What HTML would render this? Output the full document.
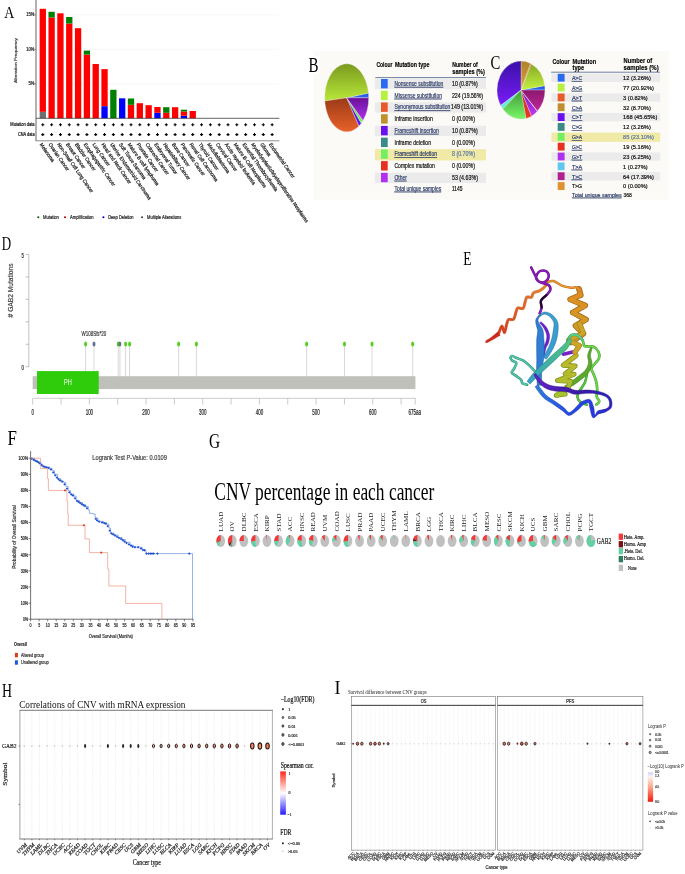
<!DOCTYPE html>
<html lang="en"><head><meta charset="utf-8"><title>GAB2 pan-cancer alterations</title>
<style>
html,body{margin:0;padding:0;background:#fff}
svg{display:block;filter:blur(0.4px)}
text{font-family:"Liberation Sans",Arial,sans-serif}
text.sf{font-family:"Liberation Serif","Times New Roman",serif}
</style></head><body>
<svg width="685" height="874" viewBox="0 0 685 874">
<rect width="685" height="874" fill="#fff"/>
<g id="pA">
<text x="4.3" y="17.6" font-size="16" class="sf" textLength="10" lengthAdjust="spacingAndGlyphs">A</text>
<line x1="36" y1="83.8" x2="279.4" y2="83.8" stroke="#d8d8d8" stroke-width="0.4" stroke-dasharray="0.8 0.8"/>
<text x="34.4" y="85.4" font-size="4.7" fill="#222" stroke="#222" stroke-width="0.2" text-anchor="end" textLength="6" lengthAdjust="spacingAndGlyphs">5%</text>
<line x1="35" y1="83.8" x2="36" y2="83.8" stroke="#333" stroke-width="0.4"/>
<line x1="36" y1="49.3" x2="279.4" y2="49.3" stroke="#d8d8d8" stroke-width="0.4" stroke-dasharray="0.8 0.8"/>
<text x="34.4" y="50.9" font-size="4.7" fill="#222" stroke="#222" stroke-width="0.2" text-anchor="end" textLength="8.2" lengthAdjust="spacingAndGlyphs">10%</text>
<line x1="35" y1="49.3" x2="36" y2="49.3" stroke="#333" stroke-width="0.4"/>
<line x1="36" y1="14.8" x2="279.4" y2="14.8" stroke="#d8d8d8" stroke-width="0.4" stroke-dasharray="0.8 0.8"/>
<text x="34.4" y="16.4" font-size="4.7" fill="#222" stroke="#222" stroke-width="0.2" text-anchor="end" textLength="8.2" lengthAdjust="spacingAndGlyphs">15%</text>
<line x1="35" y1="14.8" x2="36" y2="14.8" stroke="#333" stroke-width="0.4"/>
<text font-size="4.4" fill="#444" stroke="#444" stroke-width="0.2" text-anchor="middle" textLength="45" lengthAdjust="spacingAndGlyphs" transform="translate(17.2,60.5) rotate(-90)">Alteration Frequency</text>
<rect x="39.65" y="111.8" width="6.3" height="6.5" fill="#707070"/>
<rect x="39.65" y="8.8" width="6.3" height="103" fill="#ff0000"/>
<rect x="48.47" y="17.5" width="6.3" height="100.8" fill="#ff0000"/>
<rect x="48.47" y="11.8" width="6.3" height="5.7" fill="#008000"/>
<rect x="57.29" y="13.3" width="6.3" height="105" fill="#ff0000"/>
<rect x="66.11" y="23.5" width="6.3" height="94.8" fill="#ff0000"/>
<rect x="66.11" y="17" width="6.3" height="6.5" fill="#008000"/>
<rect x="74.93" y="28.2" width="6.3" height="90.1" fill="#ff0000"/>
<rect x="83.75" y="54.6" width="6.3" height="63.7" fill="#ff0000"/>
<rect x="83.75" y="50.6" width="6.3" height="4" fill="#008000"/>
<rect x="92.57" y="64" width="6.3" height="54.3" fill="#ff0000"/>
<rect x="101.39" y="106.2" width="6.3" height="12.1" fill="#0000ff"/>
<rect x="101.39" y="69.1" width="6.3" height="37.1" fill="#ff0000"/>
<rect x="110.21" y="89.8" width="6.3" height="28.5" fill="#008000"/>
<rect x="119.03" y="98.3" width="6.3" height="20" fill="#0000ff"/>
<rect x="127.85" y="104.8" width="6.3" height="13.5" fill="#ff0000"/>
<rect x="127.85" y="98.5" width="6.3" height="6.3" fill="#008000"/>
<rect x="136.67" y="103.2" width="6.3" height="15.1" fill="#ff0000"/>
<rect x="145.49" y="105.2" width="6.3" height="13.1" fill="#ff0000"/>
<rect x="154.31" y="112.8" width="6.3" height="5.5" fill="#0000ff"/>
<rect x="154.31" y="107" width="6.3" height="5.8" fill="#ff0000"/>
<rect x="163.13" y="112.8" width="6.3" height="5.5" fill="#ff0000"/>
<rect x="163.13" y="107.2" width="6.3" height="5.6" fill="#008000"/>
<rect x="171.95" y="107.2" width="6.3" height="11.1" fill="#ff0000"/>
<rect x="180.77" y="115.8" width="6.3" height="2.5" fill="#0000ff"/>
<rect x="180.77" y="111.5" width="6.3" height="4.3" fill="#ff0000"/>
<rect x="180.77" y="109.7" width="6.3" height="1.8" fill="#008000"/>
<rect x="189.59" y="111" width="6.3" height="7.3" fill="#ff0000"/>
<line x1="36" y1="0" x2="36" y2="141" stroke="#222" stroke-width="0.7"/>
<line x1="36" y1="118.3" x2="279.4" y2="118.3" stroke="#222" stroke-width="0.7"/>
<line x1="36" y1="140.8" x2="279.4" y2="140.8" stroke="#444" stroke-width="0.6"/>
<text x="34.6" y="126.3" font-size="4.8" fill="#111" stroke="#111" stroke-width="0.2" text-anchor="end" textLength="24.3" lengthAdjust="spacingAndGlyphs">Mutation data</text>
<text x="34.6" y="136.2" font-size="4.8" fill="#111" stroke="#111" stroke-width="0.2" text-anchor="end" textLength="16.6" lengthAdjust="spacingAndGlyphs">CNA data</text>
<path d="M41.3 124.8h3M42.8 123.3v3M41.3 134.6h3M42.8 133.1v3M50.12 124.8h3M51.62 123.3v3M50.12 134.6h3M51.62 133.1v3M58.94 124.8h3M60.44 123.3v3M58.94 134.6h3M60.44 133.1v3M67.76 124.8h3M69.26 123.3v3M67.76 134.6h3M69.26 133.1v3M76.58 124.8h3M78.08 123.3v3M76.58 134.6h3M78.08 133.1v3M85.4 124.8h3M86.9 123.3v3M85.4 134.6h3M86.9 133.1v3M94.22 124.8h3M95.72 123.3v3M94.22 134.6h3M95.72 133.1v3M103.04 124.8h3M104.54 123.3v3M103.04 134.6h3M104.54 133.1v3M111.86 124.8h3M113.36 123.3v3M111.86 134.6h3M113.36 133.1v3M120.68 124.8h3M122.18 123.3v3M120.68 134.6h3M122.18 133.1v3M129.5 124.8h3M131 123.3v3M129.5 134.6h3M131 133.1v3M138.32 124.8h3M139.82 123.3v3M138.32 134.6h3M139.82 133.1v3M147.14 124.8h3M148.64 123.3v3M147.14 134.6h3M148.64 133.1v3M155.96 124.8h3M157.46 123.3v3M155.96 134.6h3M157.46 133.1v3M164.78 124.8h3M166.28 123.3v3M164.78 134.6h3M166.28 133.1v3M173.6 124.8h3M175.1 123.3v3M173.6 134.6h3M175.1 133.1v3M182.42 124.8h3M183.92 123.3v3M182.42 134.6h3M183.92 133.1v3M191.24 124.8h3M192.74 123.3v3M191.24 134.6h3M192.74 133.1v3M200.06 124.8h3M201.56 123.3v3M200.06 134.6h3M201.56 133.1v3M208.88 124.8h3M210.38 123.3v3M208.88 134.6h3M210.38 133.1v3M217.7 124.8h3M219.2 123.3v3M217.7 134.6h3M219.2 133.1v3M226.52 124.8h3M228.02 123.3v3M226.52 134.6h3M228.02 133.1v3M235.34 124.8h3M236.84 123.3v3M235.34 134.6h3M236.84 133.1v3M244.16 124.8h3M245.66 123.3v3M244.16 134.6h3M245.66 133.1v3M252.98 124.8h3M254.48 123.3v3M252.98 134.6h3M254.48 133.1v3M261.8 124.8h3M263.3 123.3v3M261.8 134.6h3M263.3 133.1v3M270.62 124.8h3M272.12 123.3v3M270.62 134.6h3M272.12 133.1v3" stroke="#000" stroke-width="1.05" fill="none"/>
<text font-size="5.2" fill="#111" stroke="#111" stroke-width="0.2" transform="translate(39.4,144.6) rotate(55) scale(0.9,1)">Melanoma</text>
<text font-size="5.2" fill="#111" stroke="#111" stroke-width="0.2" transform="translate(48.22,144.6) rotate(55) scale(0.9,1)">Ovarian Cancer</text>
<text font-size="5.2" fill="#111" stroke="#111" stroke-width="0.2" transform="translate(57.04,144.6) rotate(55) scale(0.9,1)">Non-Small Cell Lung Cancer</text>
<text font-size="5.2" fill="#111" stroke="#111" stroke-width="0.2" transform="translate(65.86,144.6) rotate(55) scale(0.9,1)">Breast Cancer</text>
<text font-size="5.2" fill="#111" stroke="#111" stroke-width="0.2" transform="translate(74.68,144.6) rotate(55) scale(0.9,1)">Bladder Cancer</text>
<text font-size="5.2" fill="#111" stroke="#111" stroke-width="0.2" transform="translate(83.5,144.6) rotate(55) scale(0.9,1)">Esophagogastric Cancer</text>
<text font-size="5.2" fill="#111" stroke="#111" stroke-width="0.2" transform="translate(92.32,144.6) rotate(55) scale(0.9,1)">Lung Cancer</text>
<text font-size="5.2" fill="#111" stroke="#111" stroke-width="0.2" transform="translate(101.14,144.6) rotate(55) scale(0.9,1)">Head and Neck Cancer</text>
<text font-size="5.2" fill="#111" stroke="#111" stroke-width="0.2" transform="translate(109.96,144.6) rotate(55) scale(0.9,1)">Uterine Endometrioid Carcinoma</text>
<text font-size="5.2" fill="#111" stroke="#111" stroke-width="0.2" transform="translate(118.78,144.6) rotate(55) scale(0.9,1)">Soft Tissue Sarcoma</text>
<text font-size="5.2" fill="#111" stroke="#111" stroke-width="0.2" transform="translate(127.6,144.6) rotate(55) scale(0.9,1)">Mature B-cell lymphoma</text>
<text font-size="5.2" fill="#111" stroke="#111" stroke-width="0.2" transform="translate(136.42,144.6) rotate(55) scale(0.9,1)">Prostate Cancer</text>
<text font-size="5.2" fill="#111" stroke="#111" stroke-width="0.2" transform="translate(145.24,144.6) rotate(55) scale(0.9,1)">Colorectal Cancer</text>
<text font-size="5.2" fill="#111" stroke="#111" stroke-width="0.2" transform="translate(154.06,144.6) rotate(55) scale(0.9,1)">Embryonal Tumor</text>
<text font-size="5.2" fill="#111" stroke="#111" stroke-width="0.2" transform="translate(162.88,144.6) rotate(55) scale(0.9,1)">Hepatobiliary Cancer</text>
<text font-size="5.2" fill="#111" stroke="#111" stroke-width="0.2" transform="translate(171.7,144.6) rotate(55) scale(0.9,1)">Bone Cancer</text>
<text font-size="5.2" fill="#111" stroke="#111" stroke-width="0.2" transform="translate(180.52,144.6) rotate(55) scale(0.9,1)">Pancreatic Cancer</text>
<text font-size="5.2" fill="#111" stroke="#111" stroke-width="0.2" transform="translate(189.34,144.6) rotate(55) scale(0.9,1)">Renal Cell Carcinoma</text>
<text font-size="5.2" fill="#111" stroke="#111" stroke-width="0.2" transform="translate(198.16,144.6) rotate(55) scale(0.9,1)">Thyroid Cancer</text>
<text font-size="5.2" fill="#111" stroke="#111" stroke-width="0.2" transform="translate(206.98,144.6) rotate(55) scale(0.9,1)">Medulloblastoma</text>
<text font-size="5.2" fill="#111" stroke="#111" stroke-width="0.2" transform="translate(215.8,144.6) rotate(55) scale(0.9,1)">Cervical Cancer</text>
<text font-size="5.2" fill="#111" stroke="#111" stroke-width="0.2" transform="translate(224.62,144.6) rotate(55) scale(0.9,1)">Acute myeloid leukemia</text>
<text font-size="5.2" fill="#111" stroke="#111" stroke-width="0.2" transform="translate(233.44,144.6) rotate(55) scale(0.9,1)">Mature B-Cell Neoplasms</text>
<text font-size="5.2" fill="#111" stroke="#111" stroke-width="0.2" transform="translate(242.26,144.6) rotate(55) scale(0.9,1)">Essential Thrombocythemia</text>
<text font-size="5.2" fill="#111" stroke="#111" stroke-width="0.2" transform="translate(251.08,144.6) rotate(55) scale(0.9,1)">Myelodysplastic/Myeloproliferative Neoplasms</text>
<text font-size="5.2" fill="#111" stroke="#111" stroke-width="0.2" transform="translate(259.9,144.6) rotate(55) scale(0.9,1)">Glioma</text>
<text font-size="5.2" fill="#111" stroke="#111" stroke-width="0.2" transform="translate(268.72,144.6) rotate(55) scale(0.9,1)">Endometrial Cancer</text>
<circle cx="38.3" cy="217.3" r="1.05" fill="#006400"/>
<circle cx="65" cy="217.3" r="1.05" fill="#c00000"/>
<circle cx="103.4" cy="217.3" r="1.05" fill="#0000d0"/>
<circle cx="142.1" cy="217.3" r="1.05" fill="#404040"/>
<text x="43.1" y="218.9" font-size="5" fill="#222" stroke="#222" stroke-width="0.2" textLength="15.8" lengthAdjust="spacingAndGlyphs">Mutation</text>
<text x="70.1" y="218.9" font-size="5" fill="#222" stroke="#222" stroke-width="0.2" textLength="23.4" lengthAdjust="spacingAndGlyphs">Amplification</text>
<text x="108.2" y="218.9" font-size="5" fill="#222" stroke="#222" stroke-width="0.2" textLength="25.4" lengthAdjust="spacingAndGlyphs">Deep Deletion</text>
<text x="147.1" y="218.9" font-size="5" fill="#222" stroke="#222" stroke-width="0.2" textLength="34.1" lengthAdjust="spacingAndGlyphs">Multiple Alterations</text>
</g>
<g id="pBC">
<rect x="313.7" y="51.3" width="355.3" height="148.5" fill="#fbfaf7"/>
<rect x="306" y="56" width="13.5" height="18" fill="#fff"/>
<text x="308.5" y="72" font-size="20" class="sf" textLength="10" lengthAdjust="spacingAndGlyphs">B</text>
<defs><linearGradient id="gb0" x1="0" y1="0" x2="0" y2="1"><stop offset="0" stop-color="#1f4fd0"/><stop offset="1" stop-color="#2f6cf5"/></linearGradient><linearGradient id="gb1" x1="0" y1="0" x2="0" y2="1"><stop offset="0" stop-color="#7a9a1e"/><stop offset="1" stop-color="#b9e83a"/></linearGradient><linearGradient id="gb2" x1="0" y1="0" x2="0" y2="1"><stop offset="0" stop-color="#9a3a18"/><stop offset="1" stop-color="#e8622a"/></linearGradient><linearGradient id="gb3" x1="0" y1="0" x2="0" y2="1"><stop offset="0" stop-color="#4a10c0"/><stop offset="1" stop-color="#6a18f8"/></linearGradient><linearGradient id="gb4" x1="0" y1="0" x2="0" y2="1"><stop offset="0" stop-color="#50c840"/><stop offset="1" stop-color="#78f868"/></linearGradient><linearGradient id="gb5" x1="0" y1="0" x2="0" y2="1"><stop offset="0" stop-color="#6a1098"/><stop offset="1" stop-color="#b030f0"/></linearGradient></defs><g transform="translate(346.7,97.8) scale(0.22,0.34)"><path d="M0 0L100 -0A100 100 0 0 0 99.04 -13.8Z" fill="url(#gb0)" stroke="#f4f0e8" stroke-width="1.2" stroke-linejoin="round"/><path d="M0 0L99.04 -13.8A100 100 0 0 0 -99.53 9.67Z" fill="url(#gb1)" stroke="#f4f0e8" stroke-width="1.2" stroke-linejoin="round"/><path d="M0 0L-99.53 9.67A100 100 0 0 0 55.49 83.19Z" fill="url(#gb2)" stroke="#f4f0e8" stroke-width="1.2" stroke-linejoin="round"/><path d="M0 0L55.49 83.19A100 100 0 0 0 66.43 74.75Z" fill="url(#gb3)" stroke="#f4f0e8" stroke-width="1.2" stroke-linejoin="round"/><path d="M0 0L66.43 74.75A100 100 0 0 0 74.28 66.95Z" fill="url(#gb4)" stroke="#f4f0e8" stroke-width="1.2" stroke-linejoin="round"/><path d="M0 0L74.28 66.95A100 100 0 0 0 100 0Z" fill="url(#gb5)" stroke="#f4f0e8" stroke-width="1.2" stroke-linejoin="round"/></g>
<text x="376.5" y="67" font-size="6.8" font-weight="bold" stroke="#000" stroke-width="0.15" textLength="16" lengthAdjust="spacingAndGlyphs">Colour</text>
<text x="394.9" y="67" font-size="6.8" font-weight="bold" stroke="#000" stroke-width="0.15" textLength="34.5" lengthAdjust="spacingAndGlyphs">Mutation type</text>
<text x="452.3" y="67" font-size="6.8" font-weight="bold" stroke="#000" stroke-width="0.15" textLength="25.5" lengthAdjust="spacingAndGlyphs">Number of</text>
<text x="452.3" y="73.7" font-size="6.8" font-weight="bold" stroke="#000" stroke-width="0.15" textLength="32.5" lengthAdjust="spacingAndGlyphs">samples (%)</text>
<line x1="375.3" y1="77.6" x2="486" y2="77.6" stroke="#4a5f8a" stroke-width="0.8"/>
<rect x="374.9" y="78.8" width="111.1" height="10.33" fill="#ebebeb"/>
<rect x="381" y="79" width="6.7" height="9.4" fill="#2a6af0"/>
<text x="394.5" y="85.9" font-size="6.6" fill="#2b3a67" stroke="#2b3a67" stroke-width="0.2" text-decoration="underline" textLength="48.8" lengthAdjust="spacingAndGlyphs">Nonsense substitution</text>
<text x="452" y="85.9" font-size="6.6" fill="#111" stroke="#111" stroke-width="0.2" textLength="25.7" lengthAdjust="spacingAndGlyphs">10 (0.87%)</text>
<rect x="381" y="90.73" width="6.7" height="9.4" fill="#b8f040"/>
<text x="394.5" y="97.63" font-size="6.6" fill="#2b3a67" stroke="#2b3a67" stroke-width="0.2" text-decoration="underline" textLength="47.4" lengthAdjust="spacingAndGlyphs">Missense substitution</text>
<text x="452" y="97.63" font-size="6.6" fill="#111" stroke="#111" stroke-width="0.2" textLength="31" lengthAdjust="spacingAndGlyphs">224 (19.56%)</text>
<rect x="374.9" y="102.26" width="111.1" height="10.33" fill="#ebebeb"/>
<rect x="381" y="102.46" width="6.7" height="9.4" fill="#e85a28"/>
<text x="394.5" y="109.36" font-size="6.6" fill="#2b3a67" stroke="#2b3a67" stroke-width="0.2" text-decoration="underline" textLength="55.8" lengthAdjust="spacingAndGlyphs">Synonymous substitution</text>
<text x="451" y="109.36" font-size="6.6" fill="#111" stroke="#111" stroke-width="0.2" textLength="32" lengthAdjust="spacingAndGlyphs">149 (13.01%)</text>
<rect x="381" y="114.19" width="6.7" height="9.4" fill="#c09030"/>
<text x="394.5" y="121.09" font-size="6.6" fill="#111" stroke="#111" stroke-width="0.2" textLength="38.3" lengthAdjust="spacingAndGlyphs">Inframe insertion</text>
<text x="452" y="121.09" font-size="6.6" fill="#111" stroke="#111" stroke-width="0.2" textLength="22.9" lengthAdjust="spacingAndGlyphs">0 (0.00%)</text>
<rect x="374.9" y="125.72" width="111.1" height="10.33" fill="#ebebeb"/>
<rect x="381" y="125.92" width="6.7" height="9.4" fill="#6a10f0"/>
<text x="394.5" y="132.82" font-size="6.6" fill="#2b3a67" stroke="#2b3a67" stroke-width="0.2" text-decoration="underline" textLength="44.3" lengthAdjust="spacingAndGlyphs">Frameshift insertion</text>
<text x="452" y="132.82" font-size="6.6" fill="#111" stroke="#111" stroke-width="0.2" textLength="25.7" lengthAdjust="spacingAndGlyphs">10 (0.87%)</text>
<rect x="381" y="137.65" width="6.7" height="9.4" fill="#3a8a88"/>
<text x="394.5" y="144.55" font-size="6.6" fill="#111" stroke="#111" stroke-width="0.2" textLength="36.5" lengthAdjust="spacingAndGlyphs">Inframe deletion</text>
<text x="452" y="144.55" font-size="6.6" fill="#111" stroke="#111" stroke-width="0.2" textLength="22.9" lengthAdjust="spacingAndGlyphs">0 (0.00%)</text>
<rect x="374.9" y="149.18" width="111.1" height="11.23" fill="#f1e9a6"/>
<rect x="381" y="149.38" width="6.7" height="9.4" fill="#70f060"/>
<text x="394.5" y="156.28" font-size="6.6" fill="#2b3a67" stroke="#2b3a67" stroke-width="0.2" text-decoration="underline" textLength="42.5" lengthAdjust="spacingAndGlyphs">Frameshift deletion</text>
<text x="452" y="156.28" font-size="6.6" fill="#5a78a8" stroke="#5a78a8" stroke-width="0.2" textLength="22.9" lengthAdjust="spacingAndGlyphs">8 (0.70%)</text>
<rect x="381" y="161.11" width="6.7" height="9.4" fill="#e83020"/>
<text x="394.5" y="168.01" font-size="6.6" fill="#111" stroke="#111" stroke-width="0.2" textLength="40.4" lengthAdjust="spacingAndGlyphs">Complex mutation</text>
<text x="452" y="168.01" font-size="6.6" fill="#111" stroke="#111" stroke-width="0.2" textLength="22.9" lengthAdjust="spacingAndGlyphs">0 (0.00%)</text>
<rect x="374.9" y="172.64" width="111.1" height="10.33" fill="#ebebeb"/>
<rect x="381" y="172.84" width="6.7" height="9.4" fill="#b030f0"/>
<text x="394.5" y="179.74" font-size="6.6" fill="#2b3a67" stroke="#2b3a67" stroke-width="0.2" text-decoration="underline" textLength="12.3" lengthAdjust="spacingAndGlyphs">Other</text>
<text x="452" y="179.74" font-size="6.6" fill="#111" stroke="#111" stroke-width="0.2" textLength="25.9" lengthAdjust="spacingAndGlyphs">53 (4.63%)</text>
<text x="394.5" y="190.6" font-size="6.6" fill="#2b3a67" stroke="#2b3a67" stroke-width="0.2" text-decoration="underline" textLength="46.7" lengthAdjust="spacingAndGlyphs">Total unique samples</text>
<text x="452" y="190.6" font-size="6.6" fill="#111" stroke="#111" stroke-width="0.2" textLength="10.6" lengthAdjust="spacingAndGlyphs">1145</text>
<text x="490.5" y="69.3" font-size="19.5" class="sf" textLength="9.8" lengthAdjust="spacingAndGlyphs">C</text>
<defs><linearGradient id="gc0" x1="0" y1="0" x2="0" y2="1"><stop offset="0" stop-color="#1f4fd0"/><stop offset="1" stop-color="#2f6cf5"/></linearGradient><linearGradient id="gc1" x1="0" y1="0" x2="0" y2="1"><stop offset="0" stop-color="#86a822"/><stop offset="1" stop-color="#c4f244"/></linearGradient><linearGradient id="gc2" x1="0" y1="0" x2="0" y2="1"><stop offset="0" stop-color="#c04818"/><stop offset="1" stop-color="#e8622a"/></linearGradient><linearGradient id="gc3" x1="0" y1="0" x2="0" y2="1"><stop offset="0" stop-color="#b08028"/><stop offset="1" stop-color="#d8a838"/></linearGradient><linearGradient id="gc4" x1="0" y1="0" x2="0" y2="1"><stop offset="0" stop-color="#3a10a8"/><stop offset="1" stop-color="#7a1cf8"/></linearGradient><linearGradient id="gc5" x1="0" y1="0" x2="0" y2="1"><stop offset="0" stop-color="#50d0c8"/><stop offset="1" stop-color="#70f0e8"/></linearGradient><linearGradient id="gc6" x1="0" y1="0" x2="0" y2="1"><stop offset="0" stop-color="#3c9a38"/><stop offset="1" stop-color="#7cf668"/></linearGradient><linearGradient id="gc7" x1="0" y1="0" x2="0" y2="1"><stop offset="0" stop-color="#c02818"/><stop offset="1" stop-color="#f03828"/></linearGradient><linearGradient id="gc8" x1="0" y1="0" x2="0" y2="1"><stop offset="0" stop-color="#7a18b0"/><stop offset="1" stop-color="#c038f8"/></linearGradient><linearGradient id="gc9" x1="0" y1="0" x2="0" y2="1"><stop offset="0" stop-color="#60c8f0"/><stop offset="1" stop-color="#60c8f0"/></linearGradient><linearGradient id="gc10" x1="0" y1="0" x2="0" y2="1"><stop offset="0" stop-color="#8a1870"/><stop offset="1" stop-color="#c02898"/></linearGradient></defs><g transform="translate(521,90.1) scale(0.24,0.29)"><path d="M0 0L100 -0A100 100 0 0 0 98.85 -15.14Z" fill="url(#gc0)" stroke="#f4f0e8" stroke-width="1.2" stroke-linejoin="round"/><path d="M0 0L98.85 -15.14A100 100 0 0 0 42.9 -90.33Z" fill="url(#gc1)" stroke="#f4f0e8" stroke-width="1.2" stroke-linejoin="round"/><path d="M0 0L42.9 -90.33A100 100 0 0 0 39.44 -91.9Z" fill="url(#gc2)" stroke="#f4f0e8" stroke-width="1.2" stroke-linejoin="round"/><path d="M0 0L39.44 -91.9A100 100 0 0 0 0 -100Z" fill="url(#gc3)" stroke="#f4f0e8" stroke-width="1.2" stroke-linejoin="round"/><path d="M0 0L0 -100A100 100 0 0 0 -84.86 52.9Z" fill="url(#gc4)" stroke="#f4f0e8" stroke-width="1.2" stroke-linejoin="round"/><path d="M0 0L-84.86 52.9A100 100 0 0 0 -75.88 65.14Z" fill="url(#gc5)" stroke="#f4f0e8" stroke-width="1.2" stroke-linejoin="round"/><path d="M0 0L-75.88 65.14A100 100 0 0 0 21.37 97.69Z" fill="url(#gc6)" stroke="#f4f0e8" stroke-width="1.2" stroke-linejoin="round"/><path d="M0 0L21.37 97.69A100 100 0 0 0 44.04 89.78Z" fill="url(#gc7)" stroke="#f4f0e8" stroke-width="1.2" stroke-linejoin="round"/><path d="M0 0L44.04 89.78A100 100 0 0 0 67.97 73.35Z" fill="url(#gc8)" stroke="#f4f0e8" stroke-width="1.2" stroke-linejoin="round"/><path d="M0 0L67.97 73.35A100 100 0 0 0 68.9 72.48Z" fill="url(#gc9)" stroke="#f4f0e8" stroke-width="1.2" stroke-linejoin="round"/><path d="M0 0L68.9 72.48A100 100 0 0 0 100 -0Z" fill="url(#gc10)" stroke="#f4f0e8" stroke-width="1.2" stroke-linejoin="round"/></g>
<text x="552.4" y="63.7" font-size="6.4" font-weight="bold" stroke="#000" stroke-width="0.15" textLength="17.3" lengthAdjust="spacingAndGlyphs">Colour</text>
<text x="572.6" y="63.7" font-size="6.4" font-weight="bold" stroke="#000" stroke-width="0.15" textLength="23.5" lengthAdjust="spacingAndGlyphs">Mutation</text>
<text x="572.6" y="69.6" font-size="6.4" font-weight="bold" stroke="#000" stroke-width="0.15" textLength="11.5" lengthAdjust="spacingAndGlyphs">type</text>
<text x="623.6" y="63.4" font-size="6.4" font-weight="bold" stroke="#000" stroke-width="0.15" textLength="28.7" lengthAdjust="spacingAndGlyphs">Number of</text>
<text x="623.6" y="69.6" font-size="6.4" font-weight="bold" stroke="#000" stroke-width="0.15" textLength="35.1" lengthAdjust="spacingAndGlyphs">samples (%)</text>
<line x1="551.1" y1="72.2" x2="660" y2="72.2" stroke="#4a5f8a" stroke-width="0.8"/>
<rect x="551.4" y="73.6" width="108.8" height="8.35" fill="#ebebeb"/>
<rect x="557.7" y="73.8" width="6.9" height="7.8" fill="#2a6af0"/>
<text x="571.9" y="80" font-size="6.2" fill="#2b3a67" stroke="#2b3a67" stroke-width="0.2" text-decoration="underline" textLength="10.3" lengthAdjust="spacingAndGlyphs">A&gt;C</text>
<text x="623.1" y="80" font-size="6.2" fill="#111" stroke="#111" stroke-width="0.2" textLength="27.7" lengthAdjust="spacingAndGlyphs">12 (3.26%)</text>
<rect x="557.7" y="83.65" width="6.9" height="7.8" fill="#b8f040"/>
<text x="571.9" y="89.85" font-size="6.2" fill="#2b3a67" stroke="#2b3a67" stroke-width="0.2" text-decoration="underline" textLength="10.3" lengthAdjust="spacingAndGlyphs">A&gt;G</text>
<text x="623.1" y="89.85" font-size="6.2" fill="#111" stroke="#111" stroke-width="0.2" textLength="30.7" lengthAdjust="spacingAndGlyphs">77 (20.92%)</text>
<rect x="551.4" y="93.3" width="108.8" height="8.35" fill="#ebebeb"/>
<rect x="557.7" y="93.5" width="6.9" height="7.8" fill="#e85a28"/>
<text x="571.9" y="99.7" font-size="6.2" fill="#2b3a67" stroke="#2b3a67" stroke-width="0.2" text-decoration="underline" textLength="10.3" lengthAdjust="spacingAndGlyphs">A&gt;T</text>
<text x="623.1" y="99.7" font-size="6.2" fill="#111" stroke="#111" stroke-width="0.2" textLength="24.5" lengthAdjust="spacingAndGlyphs">3 (0.82%)</text>
<rect x="557.7" y="103.35" width="6.9" height="7.8" fill="#c09030"/>
<text x="571.9" y="109.55" font-size="6.2" fill="#2b3a67" stroke="#2b3a67" stroke-width="0.2" text-decoration="underline" textLength="10.3" lengthAdjust="spacingAndGlyphs">C&gt;A</text>
<text x="623.1" y="109.55" font-size="6.2" fill="#111" stroke="#111" stroke-width="0.2" textLength="27.7" lengthAdjust="spacingAndGlyphs">32 (8.70%)</text>
<rect x="551.4" y="113" width="108.8" height="8.35" fill="#ebebeb"/>
<rect x="557.7" y="113.2" width="6.9" height="7.8" fill="#6a10f0"/>
<text x="571.9" y="119.4" font-size="6.2" fill="#2b3a67" stroke="#2b3a67" stroke-width="0.2" text-decoration="underline" textLength="10.3" lengthAdjust="spacingAndGlyphs">C&gt;T</text>
<text x="623.1" y="119.4" font-size="6.2" fill="#111" stroke="#111" stroke-width="0.2" textLength="34.2" lengthAdjust="spacingAndGlyphs">168 (45.65%)</text>
<rect x="557.7" y="123.05" width="6.9" height="7.8" fill="#3a8a88"/>
<text x="571.9" y="129.25" font-size="6.2" fill="#2b3a67" stroke="#2b3a67" stroke-width="0.2" text-decoration="underline" textLength="10.3" lengthAdjust="spacingAndGlyphs">C&gt;G</text>
<text x="623.1" y="129.25" font-size="6.2" fill="#111" stroke="#111" stroke-width="0.2" textLength="27.7" lengthAdjust="spacingAndGlyphs">12 (3.26%)</text>
<rect x="551.4" y="132.6" width="108.8" height="9.25" fill="#f1e9a6"/>
<rect x="557.7" y="132.9" width="6.9" height="7.8" fill="#70f060"/>
<text x="571.9" y="139.1" font-size="6.2" fill="#2b3a67" stroke="#2b3a67" stroke-width="0.2" text-decoration="underline" textLength="10.3" lengthAdjust="spacingAndGlyphs">G&gt;A</text>
<text x="623.1" y="139.1" font-size="6.2" fill="#5a78a8" stroke="#5a78a8" stroke-width="0.2" textLength="30.7" lengthAdjust="spacingAndGlyphs">85 (23.10%)</text>
<rect x="557.7" y="142.75" width="6.9" height="7.8" fill="#e83020"/>
<text x="571.9" y="148.95" font-size="6.2" fill="#2b3a67" stroke="#2b3a67" stroke-width="0.2" text-decoration="underline" textLength="10.3" lengthAdjust="spacingAndGlyphs">G&gt;C</text>
<text x="623.1" y="148.95" font-size="6.2" fill="#111" stroke="#111" stroke-width="0.2" textLength="27.7" lengthAdjust="spacingAndGlyphs">19 (5.16%)</text>
<rect x="551.4" y="152.4" width="108.8" height="8.35" fill="#ebebeb"/>
<rect x="557.7" y="152.6" width="6.9" height="7.8" fill="#b030f0"/>
<text x="571.9" y="158.8" font-size="6.2" fill="#2b3a67" stroke="#2b3a67" stroke-width="0.2" text-decoration="underline" textLength="10.3" lengthAdjust="spacingAndGlyphs">G&gt;T</text>
<text x="623.1" y="158.8" font-size="6.2" fill="#111" stroke="#111" stroke-width="0.2" textLength="27.7" lengthAdjust="spacingAndGlyphs">23 (6.25%)</text>
<rect x="557.7" y="162.45" width="6.9" height="7.8" fill="#60c8f0"/>
<text x="571.9" y="168.65" font-size="6.2" fill="#2b3a67" stroke="#2b3a67" stroke-width="0.2" text-decoration="underline" textLength="10.3" lengthAdjust="spacingAndGlyphs">T&gt;A</text>
<text x="623.1" y="168.65" font-size="6.2" fill="#111" stroke="#111" stroke-width="0.2" textLength="24.5" lengthAdjust="spacingAndGlyphs">1 (0.27%)</text>
<rect x="551.4" y="172.1" width="108.8" height="8.35" fill="#ebebeb"/>
<rect x="557.7" y="172.3" width="6.9" height="7.8" fill="#b02090"/>
<text x="571.9" y="178.5" font-size="6.2" fill="#2b3a67" stroke="#2b3a67" stroke-width="0.2" text-decoration="underline" textLength="10.3" lengthAdjust="spacingAndGlyphs">T&gt;C</text>
<text x="623.1" y="178.5" font-size="6.2" fill="#111" stroke="#111" stroke-width="0.2" textLength="30.7" lengthAdjust="spacingAndGlyphs">64 (17.39%)</text>
<rect x="557.7" y="182.15" width="6.9" height="7.8" fill="#e09030"/>
<text x="571.9" y="188.35" font-size="6.2" fill="#111" stroke="#111" stroke-width="0.2" textLength="10.3" lengthAdjust="spacingAndGlyphs">T&gt;G</text>
<text x="623.1" y="188.35" font-size="6.2" fill="#111" stroke="#111" stroke-width="0.2" textLength="24.5" lengthAdjust="spacingAndGlyphs">0 (0.00%)</text>
<text x="572" y="196.6" font-size="6.2" fill="#2b3a67" stroke="#2b3a67" stroke-width="0.2" text-decoration="underline" textLength="49.7" lengthAdjust="spacingAndGlyphs">Total unique samples</text>
<text x="623.5" y="196.6" font-size="6.2" fill="#111" stroke="#111" stroke-width="0.2" textLength="8.4" lengthAdjust="spacingAndGlyphs">368</text>
</g>
<g id="pD">
<text x="1.7" y="250.2" font-size="19.3" class="sf" textLength="9.4" lengthAdjust="spacingAndGlyphs">D</text>
<line x1="28.8" y1="254.5" x2="28.8" y2="366.9" stroke="#999" stroke-width="0.6"/>
<line x1="25.6" y1="366.7" x2="28.8" y2="366.7" stroke="#999" stroke-width="0.6"/>
<line x1="25.6" y1="344.26" x2="28.8" y2="344.26" stroke="#999" stroke-width="0.6"/>
<line x1="25.6" y1="321.82" x2="28.8" y2="321.82" stroke="#999" stroke-width="0.6"/>
<line x1="25.6" y1="299.38" x2="28.8" y2="299.38" stroke="#999" stroke-width="0.6"/>
<line x1="25.6" y1="276.94" x2="28.8" y2="276.94" stroke="#999" stroke-width="0.6"/>
<line x1="25.6" y1="254.5" x2="28.8" y2="254.5" stroke="#999" stroke-width="0.6"/>
<text x="23.8" y="258.4" font-size="7.4" fill="#222" stroke="#222" stroke-width="0.2" text-anchor="end" textLength="2.4" lengthAdjust="spacingAndGlyphs">5</text>
<text x="23.8" y="369.6" font-size="7.4" fill="#222" stroke="#222" stroke-width="0.2" text-anchor="end" textLength="2.4" lengthAdjust="spacingAndGlyphs">0</text>
<text font-size="7" fill="#444" stroke="#444" stroke-width="0.2" text-anchor="middle" textLength="54" lengthAdjust="spacingAndGlyphs" transform="translate(12.6,290.4) rotate(-90)"># GAB2 Mutations</text>
<line x1="85.6" y1="344" x2="85.6" y2="376.5" stroke="#c8c8c8" stroke-width="0.7"/>
<line x1="94" y1="344" x2="94" y2="376.5" stroke="#c8c8c8" stroke-width="0.7"/>
<line x1="118.2" y1="344" x2="118.2" y2="376.5" stroke="#c8c8c8" stroke-width="0.7"/>
<line x1="119.9" y1="344" x2="119.9" y2="376.5" stroke="#c8c8c8" stroke-width="0.7"/>
<line x1="125.6" y1="344" x2="125.6" y2="376.5" stroke="#c8c8c8" stroke-width="0.7"/>
<line x1="129.6" y1="344" x2="129.6" y2="376.5" stroke="#c8c8c8" stroke-width="0.7"/>
<line x1="178.6" y1="344" x2="178.6" y2="376.5" stroke="#c8c8c8" stroke-width="0.7"/>
<line x1="196.4" y1="344" x2="196.4" y2="376.5" stroke="#c8c8c8" stroke-width="0.7"/>
<line x1="306.6" y1="344" x2="306.6" y2="376.5" stroke="#c8c8c8" stroke-width="0.7"/>
<line x1="344.5" y1="344" x2="344.5" y2="376.5" stroke="#c8c8c8" stroke-width="0.7"/>
<line x1="372" y1="344" x2="372" y2="376.5" stroke="#c8c8c8" stroke-width="0.7"/>
<line x1="412.7" y1="344" x2="412.7" y2="376.5" stroke="#c8c8c8" stroke-width="0.7"/>
<rect x="32.7" y="376.2" width="382.7" height="12.9" fill="#bfc0b9"/>
<rect x="37" y="371.1" width="61.7" height="22.9" fill="#2fcc0c"/>
<text x="67.8" y="385.4" font-size="9.5" fill="#fff" text-anchor="middle" textLength="7.8" lengthAdjust="spacingAndGlyphs">PH</text>
<ellipse cx="85.6" cy="344" rx="1.5" ry="2.5" fill="#4fd21c"/>
<ellipse cx="94" cy="344" rx="1.5" ry="2.5" fill="#64728e"/>
<ellipse cx="118.2" cy="344" rx="1.5" ry="2.5" fill="#4fd21c"/>
<ellipse cx="119.9" cy="344" rx="1.5" ry="2.5" fill="#64728e"/>
<ellipse cx="125.6" cy="344" rx="1.5" ry="2.5" fill="#4fd21c"/>
<ellipse cx="129.6" cy="344" rx="1.5" ry="2.5" fill="#4fd21c"/>
<ellipse cx="178.6" cy="344" rx="1.5" ry="2.5" fill="#4fd21c"/>
<ellipse cx="196.4" cy="344" rx="1.5" ry="2.5" fill="#4fd21c"/>
<ellipse cx="306.6" cy="344" rx="1.5" ry="2.5" fill="#4fd21c"/>
<ellipse cx="344.5" cy="344" rx="1.5" ry="2.5" fill="#4fd21c"/>
<ellipse cx="372" cy="344" rx="1.5" ry="2.5" fill="#4fd21c"/>
<ellipse cx="412.7" cy="344" rx="1.5" ry="2.5" fill="#4fd21c"/>
<text x="81.5" y="336" font-size="7.4" fill="#333" stroke="#333" stroke-width="0.2" textLength="24.8" lengthAdjust="spacingAndGlyphs">W108Sfs*20</text>
<line x1="32.7" y1="398.3" x2="415.4" y2="398.3" stroke="#aaa" stroke-width="0.6"/>
<line x1="32.7" y1="398.3" x2="32.7" y2="404.6" stroke="#aaa" stroke-width="0.6"/>
<line x1="61.04" y1="398.3" x2="61.04" y2="404.6" stroke="#aaa" stroke-width="0.6"/>
<line x1="89.38" y1="398.3" x2="89.38" y2="404.6" stroke="#aaa" stroke-width="0.6"/>
<line x1="117.72" y1="398.3" x2="117.72" y2="404.6" stroke="#aaa" stroke-width="0.6"/>
<line x1="146.06" y1="398.3" x2="146.06" y2="404.6" stroke="#aaa" stroke-width="0.6"/>
<line x1="174.4" y1="398.3" x2="174.4" y2="404.6" stroke="#aaa" stroke-width="0.6"/>
<line x1="202.74" y1="398.3" x2="202.74" y2="404.6" stroke="#aaa" stroke-width="0.6"/>
<line x1="231.08" y1="398.3" x2="231.08" y2="404.6" stroke="#aaa" stroke-width="0.6"/>
<line x1="259.42" y1="398.3" x2="259.42" y2="404.6" stroke="#aaa" stroke-width="0.6"/>
<line x1="287.76" y1="398.3" x2="287.76" y2="404.6" stroke="#aaa" stroke-width="0.6"/>
<line x1="316.1" y1="398.3" x2="316.1" y2="404.6" stroke="#aaa" stroke-width="0.6"/>
<line x1="344.44" y1="398.3" x2="344.44" y2="404.6" stroke="#aaa" stroke-width="0.6"/>
<line x1="372.78" y1="398.3" x2="372.78" y2="404.6" stroke="#aaa" stroke-width="0.6"/>
<line x1="401.12" y1="398.3" x2="401.12" y2="404.6" stroke="#aaa" stroke-width="0.6"/>
<line x1="415.2" y1="398.3" x2="415.2" y2="404.6" stroke="#aaa" stroke-width="0.6"/>
<text x="32.7" y="415.1" font-size="8.2" fill="#222" stroke="#222" stroke-width="0.2" text-anchor="middle" textLength="2.5" lengthAdjust="spacingAndGlyphs">0</text>
<text x="89.38" y="415.1" font-size="8.2" fill="#222" stroke="#222" stroke-width="0.2" text-anchor="middle" textLength="7.5" lengthAdjust="spacingAndGlyphs">100</text>
<text x="146.06" y="415.1" font-size="8.2" fill="#222" stroke="#222" stroke-width="0.2" text-anchor="middle" textLength="7.5" lengthAdjust="spacingAndGlyphs">200</text>
<text x="202.74" y="415.1" font-size="8.2" fill="#222" stroke="#222" stroke-width="0.2" text-anchor="middle" textLength="7.5" lengthAdjust="spacingAndGlyphs">300</text>
<text x="259.42" y="415.1" font-size="8.2" fill="#222" stroke="#222" stroke-width="0.2" text-anchor="middle" textLength="7.5" lengthAdjust="spacingAndGlyphs">400</text>
<text x="316.1" y="415.1" font-size="8.2" fill="#222" stroke="#222" stroke-width="0.2" text-anchor="middle" textLength="7.5" lengthAdjust="spacingAndGlyphs">500</text>
<text x="372.78" y="415.1" font-size="8.2" fill="#222" stroke="#222" stroke-width="0.2" text-anchor="middle" textLength="7.5" lengthAdjust="spacingAndGlyphs">600</text>
<text x="408.4" y="415.1" font-size="8.2" fill="#222" stroke="#222" stroke-width="0.2" textLength="12.6" lengthAdjust="spacingAndGlyphs">675aa</text>
</g>
<g id="pE">
<text x="463.3" y="265" font-size="18.5" class="sf" textLength="8.2" lengthAdjust="spacingAndGlyphs">E</text>
<defs><linearGradient id="gtail" gradientUnits="userSpaceOnUse" x1="485" y1="343" x2="547" y2="282"><stop offset="0" stop-color="#cc2a1c"/><stop offset="0.5" stop-color="#dc5a24"/><stop offset="1" stop-color="#e08a2a"/></linearGradient><linearGradient id="ghel" gradientUnits="userSpaceOnUse" x1="578" y1="288" x2="572" y2="345"><stop offset="0" stop-color="#e08c22"/><stop offset="1" stop-color="#c8a02a"/></linearGradient><linearGradient id="ghel2" gradientUnits="userSpaceOnUse" x1="575" y1="350" x2="560" y2="396"><stop offset="0" stop-color="#c4b42a"/><stop offset="1" stop-color="#a4c42e"/></linearGradient><linearGradient id="gteal" gradientUnits="userSpaceOnUse" x1="570" y1="340" x2="528" y2="384"><stop offset="0" stop-color="#52c47c"/><stop offset="0.55" stop-color="#3eb0a4"/><stop offset="1" stop-color="#38a0cc"/></linearGradient><linearGradient id="gpb" gradientUnits="userSpaceOnUse" x1="540" y1="380" x2="612" y2="405"><stop offset="0" stop-color="#6022c4"/><stop offset="0.5" stop-color="#3a1aa8"/><stop offset="1" stop-color="#2a26c8"/></linearGradient><linearGradient id="gbot" gradientUnits="userSpaceOnUse" x1="540" y1="385" x2="600" y2="415"><stop offset="0" stop-color="#2c7cd8"/><stop offset="0.5" stop-color="#2650e4"/><stop offset="1" stop-color="#2a30dc"/></linearGradient></defs>
<path d="M567.45 341.35C567.97 340.42 568.94 336.76 570.6 335.74C572.25 334.73 575.37 334.54 577.37 335.28C579.38 336.02 581.42 338.39 582.63 340.18C583.83 341.97 582.86 344.95 584.61 346.02C586.36 347.09 590.84 345.67 593.14 346.61C595.44 347.54 597.4 349.74 598.39 351.63C599.39 353.52 599.64 355.95 599.09 357.93C598.55 359.92 596.41 361.79 595.12 363.54C593.84 365.29 591.66 366.69 591.39 368.45C591.11 370.2 592.71 371.95 593.49 374.05C594.27 376.15 595.44 378.53 596.06 381.06C596.68 383.59 597.13 386.66 597.23 389.23C597.32 391.8 596.29 394.43 596.64 396.47C596.99 398.52 599.39 400.13 599.33 401.5C599.27 402.86 596.8 404.12 596.29 404.65" fill="none" stroke="#46a838" stroke-width="2.7" stroke-linecap="round" stroke-linejoin="round"/>
<path d="M567.45 341.35C567.97 340.42 568.94 336.76 570.6 335.74C572.25 334.73 575.37 334.54 577.37 335.28C579.38 336.02 581.42 338.39 582.63 340.18C583.83 341.97 582.86 344.95 584.61 346.02C586.36 347.09 590.84 345.67 593.14 346.61C595.44 347.54 597.4 349.74 598.39 351.63C599.39 353.52 599.64 355.95 599.09 357.93C598.55 359.92 596.41 361.79 595.12 363.54C593.84 365.29 591.66 366.69 591.39 368.45C591.11 370.2 592.71 371.95 593.49 374.05C594.27 376.15 595.44 378.53 596.06 381.06C596.68 383.59 597.13 386.66 597.23 389.23C597.32 391.8 596.29 394.43 596.64 396.47C596.99 398.52 599.39 400.13 599.33 401.5C599.27 402.86 596.8 404.12 596.29 404.65" fill="none" stroke="#72d84a" stroke-width="1.5" stroke-linecap="round" stroke-linejoin="round"/>
<path d="M586.95 374.05C586.62 375.41 586.13 379.5 584.96 382.23C583.8 384.95 581.21 388.03 579.94 390.4C578.68 392.78 577.31 394.53 577.37 396.47C577.43 398.42 578.73 400.72 580.29 402.08C581.85 403.44 585.64 404.22 586.72 404.65" fill="none" stroke="#3e9a30" stroke-width="2.6" stroke-linecap="round" stroke-linejoin="round"/>
<path d="M586.95 374.05C586.62 375.41 586.13 379.5 584.96 382.23C583.8 384.95 581.21 388.03 579.94 390.4C578.68 392.78 577.31 394.53 577.37 396.47C577.43 398.42 578.73 400.72 580.29 402.08C581.85 403.44 585.64 404.22 586.72 404.65" fill="none" stroke="#5cc442" stroke-width="1.4" stroke-linecap="round" stroke-linejoin="round"/>
<path d="M590.49 347.5C590.02 348.79 587.99 352.63 587.65 355.26C587.32 357.89 588.92 360.76 588.48 363.29C588.05 365.82 586.94 368.15 585.05 370.43C583.16 372.72 579.74 374.91 577.16 376.99C574.57 379.06 571.65 381.4 569.54 382.88C567.44 384.36 565.35 385.36 564.52 385.86L565.7 388.4C566.7 388.04 569.28 387.57 571.65 386.24C574.02 384.92 577.14 382.67 579.92 380.46C582.71 378.25 586.38 375.78 588.38 373C590.39 370.22 591.61 366.71 591.95 363.79C592.3 360.87 590.39 358.09 590.45 355.47C590.5 352.85 591.97 349.29 592.28 348.05Z" fill="#5aa82c" stroke="#3c7a1c" stroke-width="0.5" stroke-linejoin="round"/>
<path d="M576.2 355.6L563.36 365.29L575.04 366.11L565.11 374.05L574.1 374.28L557.52 380.59L570.6 381.29L568.03 388.07L556.35 395.31L565.11 394.14" fill="none" stroke="#7e8a1c" stroke-width="5" stroke-linecap="round" stroke-linejoin="round"/>
<path d="M576.2 355.6L563.36 365.29L575.04 366.11L565.11 374.05L574.1 374.28L557.52 380.59L570.6 381.29L568.03 388.07L556.35 395.31L565.11 394.14" fill="none" stroke="url(#ghel2)" stroke-width="3.6" stroke-linecap="round" stroke-linejoin="round"/>
<path d="M563.36 354.2L575.04 351.39" fill="none" stroke="#7a22c8" stroke-width="3.6" stroke-linecap="round" stroke-linejoin="round"/>
<path d="M578.98 288.91L580.74 295.04L570.22 299.42L585.12 305.55L572.85 312.56L585.99 319.57L575.48 325.7L583.36 333.58L571.1 342.34" fill="none" stroke="#a06814" stroke-width="5.8" stroke-linecap="round" stroke-linejoin="round"/>
<path d="M578.98 288.91L580.74 295.04L570.22 299.42L585.12 305.55L572.85 312.56L585.99 319.57L575.48 325.7L583.36 333.58L571.1 342.34" fill="none" stroke="url(#ghel)" stroke-width="4.3" stroke-linecap="round" stroke-linejoin="round"/>
<path d="M579.71 323.83L583.45 333.18L568.61 340.18L579.47 345.55L575.04 352.09" fill="none" stroke="#a88418" stroke-width="5.2" stroke-linecap="round" stroke-linejoin="round"/>
<path d="M579.71 323.83L583.45 333.18L568.61 340.18L579.47 345.55L575.04 352.09" fill="none" stroke="#cca42a" stroke-width="3.8" stroke-linecap="round" stroke-linejoin="round"/>
<path d="M567.45 341.35C567.97 340.42 568.94 336.76 570.6 335.74C572.25 334.73 575.37 334.54 577.37 335.28C579.38 336.02 581.75 339.36 582.63 340.18" fill="none" stroke="#46b070" stroke-width="2.6" stroke-linecap="round" stroke-linejoin="round"/>
<path d="M567.45 341.35C567.97 340.42 568.94 336.76 570.6 335.74C572.25 334.73 575.37 334.54 577.37 335.28C579.38 336.02 581.75 339.36 582.63 340.18" fill="none" stroke="#5ed090" stroke-width="1.4" stroke-linecap="round" stroke-linejoin="round"/>
<path d="M546.22 282.07C547.45 281.9 550.89 280.38 553.58 281.02C556.27 281.67 559.42 284.82 562.34 285.93C565.26 287.04 568.76 287.45 571.1 287.68C573.44 287.91 574.84 286.8 576.36 287.33C577.87 287.86 579.57 290.25 580.21 290.83" fill="none" stroke="#c8741a" stroke-width="2.5" stroke-linecap="round" stroke-linejoin="round"/>
<path d="M546.22 282.07C547.45 281.9 550.89 280.38 553.58 281.02C556.27 281.67 559.42 284.82 562.34 285.93C565.26 287.04 568.76 287.45 571.1 287.68C573.44 287.91 574.84 286.8 576.36 287.33C577.87 287.86 579.57 290.25 580.21 290.83" fill="none" stroke="#e8983a" stroke-width="1.2" stroke-linecap="round" stroke-linejoin="round"/>
<path d="M487.01 341.46C488.76 340.38 495.07 337.52 497.52 334.98C499.97 332.44 500.56 326.63 501.72 326.22C502.89 325.81 503.71 332.82 504.53 332.53C505.34 332.24 505.96 326.63 506.63 324.47C507.3 322.31 507.39 320.44 508.56 319.57C509.72 318.69 512.41 320.44 513.64 319.22C514.86 317.99 515.21 314.08 515.91 312.21C516.62 310.34 516.64 308.65 517.84 308C519.04 307.36 521.87 309.4 523.1 308.35C524.32 307.3 524.56 303.56 525.2 301.7C525.84 299.83 525.9 297.9 526.95 297.14C528 296.38 530.43 297.84 531.51 297.14C532.59 296.44 532.15 293.99 533.43 292.94C534.72 291.89 537.55 291.65 539.22 290.83C540.88 290.02 542.19 289.08 543.42 288.03C544.65 286.98 546.05 285.11 546.57 284.53" fill="none" stroke="#b84418" stroke-width="3.2" stroke-linecap="round" stroke-linejoin="round" opacity="0.5"/>
<path d="M487.01 341.46C488.76 340.38 495.07 337.52 497.52 334.98C499.97 332.44 500.56 326.63 501.72 326.22C502.89 325.81 503.71 332.82 504.53 332.53C505.34 332.24 505.96 326.63 506.63 324.47C507.3 322.31 507.39 320.44 508.56 319.57C509.72 318.69 512.41 320.44 513.64 319.22C514.86 317.99 515.21 314.08 515.91 312.21C516.62 310.34 516.64 308.65 517.84 308C519.04 307.36 521.87 309.4 523.1 308.35C524.32 307.3 524.56 303.56 525.2 301.7C525.84 299.83 525.9 297.9 526.95 297.14C528 296.38 530.43 297.84 531.51 297.14C532.59 296.44 532.15 293.99 533.43 292.94C534.72 291.89 537.55 291.65 539.22 290.83C540.88 290.02 542.19 289.08 543.42 288.03C544.65 286.98 546.05 285.11 546.57 284.53" fill="none" stroke="url(#gtail)" stroke-width="2.4" stroke-linecap="round" stroke-linejoin="round"/>
<path d="M484.2 343.2L497.9 331.6L500.4 335.4Z" fill="#cc2a1c"/>
<path d="M531.16 267.36C531.92 268.91 534.46 274.31 535.71 276.64C536.97 278.98 537.17 280.5 538.69 281.37C540.21 282.25 543.16 282.69 544.82 281.9C546.49 281.11 548.38 278.37 548.68 276.64C548.97 274.92 547.95 272.53 546.57 271.56C545.2 270.6 542.05 270.39 540.44 270.86C538.84 271.33 537.61 273.02 536.94 274.37C536.27 275.71 535.83 277.58 536.41 278.92C537 280.26 538.46 281.43 540.44 282.42C542.43 283.42 546.66 283.65 548.33 284.88C549.99 286.1 550.72 288.09 550.43 289.78C550.14 291.48 548.15 293.23 546.57 295.04C545 296.85 541.78 298.54 540.97 300.64C540.15 302.75 541.9 305.52 541.67 307.65C541.43 309.78 539.92 312.47 539.57 313.43" fill="none" stroke="#6a1090" stroke-width="2.5" stroke-linecap="round" stroke-linejoin="round"/>
<path d="M531.16 267.36C531.92 268.91 534.46 274.31 535.71 276.64C536.97 278.98 537.17 280.5 538.69 281.37C540.21 282.25 543.16 282.69 544.82 281.9C546.49 281.11 548.38 278.37 548.68 276.64C548.97 274.92 547.95 272.53 546.57 271.56C545.2 270.6 542.05 270.39 540.44 270.86C538.84 271.33 537.61 273.02 536.94 274.37C536.27 275.71 535.83 277.58 536.41 278.92C537 280.26 538.46 281.43 540.44 282.42C542.43 283.42 546.66 283.65 548.33 284.88C549.99 286.1 550.72 288.09 550.43 289.78C550.14 291.48 548.15 293.23 546.57 295.04C545 296.85 541.78 298.54 540.97 300.64C540.15 302.75 541.9 305.52 541.67 307.65C541.43 309.78 539.92 312.47 539.57 313.43" fill="none" stroke="#8a1cb8" stroke-width="1.4" stroke-linecap="round" stroke-linejoin="round"/>
<path d="M546.57 295.04C545.64 295.97 541.78 298.54 540.97 300.64C540.15 302.75 541.55 306.48 541.67 307.65" fill="none" stroke="#1e0828" stroke-width="2.1" stroke-linecap="round" stroke-linejoin="round"/>
<path d="M540.07 316.15C540.8 315.81 542.85 314.11 544.4 314.13C545.95 314.16 547.81 314.93 549.37 316.29C550.92 317.66 553.05 320.18 553.74 322.3C554.43 324.42 553.8 326.43 553.49 329.04C553.19 331.64 552.64 335.15 551.93 337.94C551.22 340.73 550.33 343.21 549.25 345.77C548.17 348.33 546.41 351.32 545.46 353.29C544.51 355.26 543.86 356.87 543.54 357.58L546.38 359.21C546.84 358.56 547.95 357.24 549.14 355.32C550.33 353.4 552.26 350.36 553.52 347.66C554.78 344.97 555.91 342.19 556.68 339.14C557.46 336.09 558.07 332.4 558.16 329.36C558.24 326.32 558.39 323.46 557.21 320.91C556.03 318.36 553.22 315.55 551.07 314.07C548.93 312.59 546.31 311.93 544.36 312.03C542.4 312.13 540.18 314.24 539.34 314.68Z" fill="#3a9ed2" stroke="#226a98" stroke-width="0.5" stroke-linejoin="round"/>
<path d="M539.68 322.73C540.38 323.63 542.69 326.03 543.87 328.11C545.04 330.2 546.39 332.99 546.73 335.26C547.08 337.52 546.42 339.74 545.94 341.69C545.46 343.65 544.41 344.79 543.84 346.96C543.28 349.13 542.75 353.42 542.53 354.71L544.36 355.07C544.65 353.83 545.37 349.75 546.08 347.63C546.8 345.52 548.09 344.53 548.66 342.39C549.23 340.26 549.93 337.42 549.5 334.82C549.07 332.21 547.49 328.97 546.06 326.78C544.63 324.58 541.76 322.5 540.9 321.65Z" fill="#6e20d0" stroke="#3e1088" stroke-width="0.4" stroke-linejoin="round"/>
<path d="M539.02 314.98C538.49 315.76 536.3 317.9 535.87 319.68C535.43 321.46 536.09 323.8 536.41 325.65C536.72 327.5 537.69 328.63 537.76 330.78C537.82 332.94 536.97 335.55 536.79 338.58C536.61 341.62 536.67 345.36 536.67 349.01C536.67 352.67 536.81 357.02 536.8 360.51C536.78 364 536.54 366.99 536.56 369.95C536.58 372.92 536.77 375.74 536.91 378.3C537.04 380.86 537.3 384.15 537.37 385.33L541.58 385.19C541.58 384.02 541.56 380.69 541.58 378.19C541.6 375.7 541.4 373.07 541.69 370.19C541.98 367.32 542.87 364.46 543.32 360.95C543.77 357.43 544.3 352.83 544.38 349.09C544.46 345.35 544.05 341.69 543.8 338.5C543.54 335.31 543.5 332.27 542.83 329.95C542.15 327.63 540.55 326.23 539.74 324.57C538.93 322.92 537.83 321.48 537.94 320.03C538.05 318.58 539.99 316.55 540.4 315.85Z" fill="#2f7ed4" stroke="#1c4e98" stroke-width="0.5" stroke-linejoin="round"/>
<path d="M535.04 371.47C534.06 370.46 531.14 367.19 529.2 365.4C527.25 363.61 525.3 361.9 523.36 360.73C521.41 359.56 519.37 359.17 517.52 358.39C515.67 357.62 513.43 356.14 512.26 356.06C511.09 355.98 510.49 357.15 510.51 357.93C510.53 358.71 511.41 359.87 512.38 360.73C513.35 361.59 516.08 361.7 516.35 363.07C516.62 364.43 514.79 367.31 514.01 368.91C513.24 370.5 511.29 371.44 511.68 372.64C512.07 373.85 514.79 374.98 516.35 376.15C517.91 377.31 520.01 378.48 521.02 379.65C522.03 380.82 521.41 382.3 522.42 383.15C523.44 384.01 526.32 384.52 527.09 384.79" fill="none" stroke="#2e9680" stroke-width="2.6" stroke-linecap="round" stroke-linejoin="round"/>
<path d="M535.04 371.47C534.06 370.46 531.14 367.19 529.2 365.4C527.25 363.61 525.3 361.9 523.36 360.73C521.41 359.56 519.37 359.17 517.52 358.39C515.67 357.62 513.43 356.14 512.26 356.06C511.09 355.98 510.49 357.15 510.51 357.93C510.53 358.71 511.41 359.87 512.38 360.73C513.35 361.59 516.08 361.7 516.35 363.07C516.62 364.43 514.79 367.31 514.01 368.91C513.24 370.5 511.29 371.44 511.68 372.64C512.07 373.85 514.79 374.98 516.35 376.15C517.91 377.31 520.01 378.48 521.02 379.65C522.03 380.82 521.41 382.3 522.42 383.15C523.44 384.01 526.32 384.52 527.09 384.79" fill="none" stroke="#56c8a8" stroke-width="1.4" stroke-linecap="round" stroke-linejoin="round"/>
<path d="M569.22 338.13C568.26 339.27 565.78 342.64 563.48 345.01C561.17 347.38 558.3 349.66 555.39 352.34C552.49 355.02 548.97 358.37 546.05 361.1C543.13 363.83 540.19 366.44 537.85 368.72C535.5 370.99 533.77 372.64 531.98 374.75C530.19 376.87 527.91 380.29 527.1 381.4L530.13 383.97C531.07 383.02 533.85 380.13 535.76 378.24C537.66 376.34 539.24 374.8 541.57 372.6C543.89 370.39 546.8 367.75 549.72 365.03C552.63 362.31 556.12 359.04 559.06 356.27C561.99 353.5 565.15 351.11 567.33 348.42C569.5 345.73 571.3 341.5 572.1 340.12Z" fill="url(#gteal)" stroke="#247a78" stroke-width="0.5" stroke-linejoin="round"/>
<path d="M533.89 374.67C534.7 375.98 536.72 380.2 538.75 382.52C540.78 384.83 543.2 387.11 546.07 388.56C548.95 390.01 552.6 390.66 556 391.19C559.4 391.73 563.33 391.26 566.47 391.77C569.6 392.28 571.45 393.99 574.83 394.24C578.2 394.5 583.22 393.42 586.72 393.32C590.21 393.22 592.79 393.17 595.81 393.65C598.82 394.13 602.62 395.11 604.8 396.21C606.98 397.31 608.17 398.57 608.89 400.24C609.61 401.91 609.8 404.73 609.13 406.24C608.46 407.75 606.7 408.51 604.85 409.33C603.01 410.14 599.2 410.82 598.06 411.12L598.73 413.6C599.93 413.27 603.82 412.71 605.95 411.65C608.08 410.6 610.6 409.33 611.48 407.26C612.37 405.2 612.17 401.47 611.26 399.25C610.34 397.03 608.5 395.33 606.01 393.94C603.51 392.55 599.52 391.54 596.31 390.89C593.09 390.24 590.23 390.15 586.72 390.05C583.2 389.95 578.49 390.74 575.25 390.3C572 389.85 570.35 388.02 567.26 387.4C564.17 386.78 559.92 387.05 556.7 386.57C553.48 386.1 550.52 385.62 547.94 384.53C545.37 383.45 543.31 381.92 541.25 380.06C539.19 378.21 536.54 374.54 535.6 373.43Z" fill="url(#gpb)" stroke="#22106a" stroke-width="0.4" stroke-linejoin="round"/>
<path d="M535.07 386.75C535.65 387.59 536.95 389.79 538.54 391.8C540.13 393.82 542.02 396.65 544.63 398.84C547.24 401.02 551.24 402.96 554.2 404.93C557.15 406.9 559.88 408.87 562.38 410.63C564.88 412.39 566.72 415.52 569.2 415.51C571.67 415.5 574.94 412.35 577.24 410.59C579.54 408.83 581.12 406.24 582.98 404.96C584.85 403.68 587.28 402.46 588.41 402.9C589.53 403.34 588.99 405.13 589.73 407.6C590.47 410.06 591.31 416.68 592.87 417.7C594.43 418.72 596.94 414.71 599.08 413.71C601.23 412.71 604.62 412.06 605.73 411.73L605.07 409.25C603.84 409.54 599.38 410.05 597.7 411.01C596.03 411.96 595.74 415.73 595.04 414.96C594.35 414.18 594.4 408.97 593.51 406.38C592.62 403.78 591.76 400.12 589.69 399.39C587.63 398.66 583.52 400.56 581.1 402C578.68 403.45 577.15 406.31 575.17 408.06C573.18 409.8 571 412.48 569.2 412.47C567.39 412.47 566.51 409.75 564.34 408.01C562.17 406.27 559.05 404.04 556.17 402.03C553.29 400.03 549.5 398.08 547.05 395.98C544.6 393.89 542.98 391.35 541.46 389.47C539.94 387.59 538.51 385.5 537.92 384.71Z" fill="url(#gbot)" stroke="#1a2ea0" stroke-width="0.4" stroke-linejoin="round"/>
</g>
<g id="pF">
<text x="7.4" y="444.5" font-size="20" class="sf" textLength="9.4" lengthAdjust="spacingAndGlyphs">F</text>
<line x1="30.6" y1="451.2" x2="30.6" y2="619.2" stroke="#333" stroke-width="0.7"/>
<line x1="30.3" y1="619.2" x2="193.4" y2="619.2" stroke="#333" stroke-width="0.7"/>
<line x1="28.4" y1="619.2" x2="30.6" y2="619.2" stroke="#333" stroke-width="0.6"/>
<text x="28" y="620.9" font-size="5" fill="#222" stroke="#222" stroke-width="0.2" text-anchor="end" textLength="5" lengthAdjust="spacingAndGlyphs">0%</text>
<line x1="28.4" y1="603.1" x2="30.6" y2="603.1" stroke="#333" stroke-width="0.6"/>
<text x="28" y="604.8" font-size="5" fill="#222" stroke="#222" stroke-width="0.2" text-anchor="end" textLength="7.3" lengthAdjust="spacingAndGlyphs">10%</text>
<line x1="28.4" y1="587" x2="30.6" y2="587" stroke="#333" stroke-width="0.6"/>
<text x="28" y="588.7" font-size="5" fill="#222" stroke="#222" stroke-width="0.2" text-anchor="end" textLength="7.3" lengthAdjust="spacingAndGlyphs">20%</text>
<line x1="28.4" y1="570.9" x2="30.6" y2="570.9" stroke="#333" stroke-width="0.6"/>
<text x="28" y="572.6" font-size="5" fill="#222" stroke="#222" stroke-width="0.2" text-anchor="end" textLength="7.3" lengthAdjust="spacingAndGlyphs">30%</text>
<line x1="28.4" y1="554.8" x2="30.6" y2="554.8" stroke="#333" stroke-width="0.6"/>
<text x="28" y="556.5" font-size="5" fill="#222" stroke="#222" stroke-width="0.2" text-anchor="end" textLength="7.3" lengthAdjust="spacingAndGlyphs">40%</text>
<line x1="28.4" y1="538.7" x2="30.6" y2="538.7" stroke="#333" stroke-width="0.6"/>
<text x="28" y="540.4" font-size="5" fill="#222" stroke="#222" stroke-width="0.2" text-anchor="end" textLength="7.3" lengthAdjust="spacingAndGlyphs">50%</text>
<line x1="28.4" y1="522.6" x2="30.6" y2="522.6" stroke="#333" stroke-width="0.6"/>
<text x="28" y="524.3" font-size="5" fill="#222" stroke="#222" stroke-width="0.2" text-anchor="end" textLength="7.3" lengthAdjust="spacingAndGlyphs">60%</text>
<line x1="28.4" y1="506.5" x2="30.6" y2="506.5" stroke="#333" stroke-width="0.6"/>
<text x="28" y="508.2" font-size="5" fill="#222" stroke="#222" stroke-width="0.2" text-anchor="end" textLength="7.3" lengthAdjust="spacingAndGlyphs">70%</text>
<line x1="28.4" y1="490.4" x2="30.6" y2="490.4" stroke="#333" stroke-width="0.6"/>
<text x="28" y="492.1" font-size="5" fill="#222" stroke="#222" stroke-width="0.2" text-anchor="end" textLength="7.3" lengthAdjust="spacingAndGlyphs">80%</text>
<line x1="28.4" y1="474.3" x2="30.6" y2="474.3" stroke="#333" stroke-width="0.6"/>
<text x="28" y="476" font-size="5" fill="#222" stroke="#222" stroke-width="0.2" text-anchor="end" textLength="7.3" lengthAdjust="spacingAndGlyphs">90%</text>
<line x1="28.4" y1="458.2" x2="30.6" y2="458.2" stroke="#333" stroke-width="0.6"/>
<text x="28" y="459.9" font-size="5" fill="#222" stroke="#222" stroke-width="0.2" text-anchor="end" textLength="9.6" lengthAdjust="spacingAndGlyphs">100%</text>
<line x1="30.6" y1="619.2" x2="30.6" y2="621.4" stroke="#333" stroke-width="0.6"/>
<text x="30.6" y="626.5" font-size="5" fill="#222" stroke="#222" stroke-width="0.2" text-anchor="middle" textLength="2" lengthAdjust="spacingAndGlyphs">0</text>
<line x1="39.14" y1="619.2" x2="39.14" y2="621.4" stroke="#333" stroke-width="0.6"/>
<text x="39.14" y="626.5" font-size="5" fill="#222" stroke="#222" stroke-width="0.2" text-anchor="middle" textLength="2" lengthAdjust="spacingAndGlyphs">5</text>
<line x1="47.68" y1="619.2" x2="47.68" y2="621.4" stroke="#333" stroke-width="0.6"/>
<text x="47.68" y="626.5" font-size="5" fill="#222" stroke="#222" stroke-width="0.2" text-anchor="middle" textLength="4" lengthAdjust="spacingAndGlyphs">10</text>
<line x1="56.23" y1="619.2" x2="56.23" y2="621.4" stroke="#333" stroke-width="0.6"/>
<text x="56.23" y="626.5" font-size="5" fill="#222" stroke="#222" stroke-width="0.2" text-anchor="middle" textLength="4" lengthAdjust="spacingAndGlyphs">15</text>
<line x1="64.77" y1="619.2" x2="64.77" y2="621.4" stroke="#333" stroke-width="0.6"/>
<text x="64.77" y="626.5" font-size="5" fill="#222" stroke="#222" stroke-width="0.2" text-anchor="middle" textLength="4" lengthAdjust="spacingAndGlyphs">20</text>
<line x1="73.31" y1="619.2" x2="73.31" y2="621.4" stroke="#333" stroke-width="0.6"/>
<text x="73.31" y="626.5" font-size="5" fill="#222" stroke="#222" stroke-width="0.2" text-anchor="middle" textLength="4" lengthAdjust="spacingAndGlyphs">25</text>
<line x1="81.85" y1="619.2" x2="81.85" y2="621.4" stroke="#333" stroke-width="0.6"/>
<text x="81.85" y="626.5" font-size="5" fill="#222" stroke="#222" stroke-width="0.2" text-anchor="middle" textLength="4" lengthAdjust="spacingAndGlyphs">30</text>
<line x1="90.39" y1="619.2" x2="90.39" y2="621.4" stroke="#333" stroke-width="0.6"/>
<text x="90.39" y="626.5" font-size="5" fill="#222" stroke="#222" stroke-width="0.2" text-anchor="middle" textLength="4" lengthAdjust="spacingAndGlyphs">35</text>
<line x1="98.94" y1="619.2" x2="98.94" y2="621.4" stroke="#333" stroke-width="0.6"/>
<text x="98.94" y="626.5" font-size="5" fill="#222" stroke="#222" stroke-width="0.2" text-anchor="middle" textLength="4" lengthAdjust="spacingAndGlyphs">40</text>
<line x1="107.48" y1="619.2" x2="107.48" y2="621.4" stroke="#333" stroke-width="0.6"/>
<text x="107.48" y="626.5" font-size="5" fill="#222" stroke="#222" stroke-width="0.2" text-anchor="middle" textLength="4" lengthAdjust="spacingAndGlyphs">45</text>
<line x1="116.02" y1="619.2" x2="116.02" y2="621.4" stroke="#333" stroke-width="0.6"/>
<text x="116.02" y="626.5" font-size="5" fill="#222" stroke="#222" stroke-width="0.2" text-anchor="middle" textLength="4" lengthAdjust="spacingAndGlyphs">50</text>
<line x1="124.56" y1="619.2" x2="124.56" y2="621.4" stroke="#333" stroke-width="0.6"/>
<text x="124.56" y="626.5" font-size="5" fill="#222" stroke="#222" stroke-width="0.2" text-anchor="middle" textLength="4" lengthAdjust="spacingAndGlyphs">55</text>
<line x1="133.11" y1="619.2" x2="133.11" y2="621.4" stroke="#333" stroke-width="0.6"/>
<text x="133.11" y="626.5" font-size="5" fill="#222" stroke="#222" stroke-width="0.2" text-anchor="middle" textLength="4" lengthAdjust="spacingAndGlyphs">60</text>
<line x1="141.65" y1="619.2" x2="141.65" y2="621.4" stroke="#333" stroke-width="0.6"/>
<text x="141.65" y="626.5" font-size="5" fill="#222" stroke="#222" stroke-width="0.2" text-anchor="middle" textLength="4" lengthAdjust="spacingAndGlyphs">65</text>
<line x1="150.19" y1="619.2" x2="150.19" y2="621.4" stroke="#333" stroke-width="0.6"/>
<text x="150.19" y="626.5" font-size="5" fill="#222" stroke="#222" stroke-width="0.2" text-anchor="middle" textLength="4" lengthAdjust="spacingAndGlyphs">70</text>
<line x1="158.73" y1="619.2" x2="158.73" y2="621.4" stroke="#333" stroke-width="0.6"/>
<text x="158.73" y="626.5" font-size="5" fill="#222" stroke="#222" stroke-width="0.2" text-anchor="middle" textLength="4" lengthAdjust="spacingAndGlyphs">75</text>
<line x1="167.27" y1="619.2" x2="167.27" y2="621.4" stroke="#333" stroke-width="0.6"/>
<text x="167.27" y="626.5" font-size="5" fill="#222" stroke="#222" stroke-width="0.2" text-anchor="middle" textLength="4" lengthAdjust="spacingAndGlyphs">80</text>
<line x1="175.82" y1="619.2" x2="175.82" y2="621.4" stroke="#333" stroke-width="0.6"/>
<text x="175.82" y="626.5" font-size="5" fill="#222" stroke="#222" stroke-width="0.2" text-anchor="middle" textLength="4" lengthAdjust="spacingAndGlyphs">85</text>
<line x1="184.36" y1="619.2" x2="184.36" y2="621.4" stroke="#333" stroke-width="0.6"/>
<text x="184.36" y="626.5" font-size="5" fill="#222" stroke="#222" stroke-width="0.2" text-anchor="middle" textLength="4" lengthAdjust="spacingAndGlyphs">90</text>
<line x1="192.9" y1="619.2" x2="192.9" y2="621.4" stroke="#333" stroke-width="0.6"/>
<text x="192.9" y="626.5" font-size="5" fill="#222" stroke="#222" stroke-width="0.2" text-anchor="middle" textLength="4" lengthAdjust="spacingAndGlyphs">95</text>
<text font-size="4.8" fill="#333" stroke="#333" stroke-width="0.2" text-anchor="middle" textLength="63.7" lengthAdjust="spacingAndGlyphs" transform="translate(16,537) rotate(-90)">Probability of Overall Survival</text>
<text x="110.8" y="638" font-size="4.8" fill="#333" stroke="#333" stroke-width="0.2" text-anchor="middle" textLength="44.3" lengthAdjust="spacingAndGlyphs">Overall Survival (Months)</text>
<text x="92.3" y="460.2" font-size="6.4" fill="#444" stroke="#444" stroke-width="0.2" textLength="74.6" lengthAdjust="spacingAndGlyphs">Logrank Test P-Value: 0.0109</text>
<path d="M30.8 458.2H34.5V460.3H37.7V461.9H40.6V463.9H42.5V466.2H45.7V467.2H49.7V468.3H52.1V470.7H54.5V474.2H57.7V478.7H61V481.1H63.4V482.3H65.8V486.4H68.2V490.8H70.6V494H73.8V496.1H76.2V500.4H79.4V502.5H82.6V504.7H85.8V506.5H88.3V510H89.4V513.3H93.1V514.1H95.2V518.1H97.9V521.3H103.5V522.9H106.7V524H108.9V528.2H110.6V533H114.1V535H118.1V537.5H122.1V539.5H125.3V542.3H130.1V545.1H133.4V547.2H139.8V547.2H142.2V549.9H145.4V550.4H145.9V553.6H192.5V553.6V619.2" fill="none" stroke="#4f7fd8" stroke-width="0.6"/>
<path d="M30.62 458.73h2.2M31.73 457.62v2.2" stroke="#1f4fd0" stroke-width="1"/>
<path d="M32.48 459.77h2.2M33.58 458.67v2.2" stroke="#1f4fd0" stroke-width="1"/>
<path d="M34.2 460.7h2.2M35.3 459.6v2.2" stroke="#1f4fd0" stroke-width="1"/>
<path d="M35.8 461.5h2.2M36.9 460.4v2.2" stroke="#1f4fd0" stroke-width="1"/>
<path d="M37.33 462.4h2.2M38.43 461.3v2.2" stroke="#1f4fd0" stroke-width="1"/>
<path d="M38.77 463.4h2.2M39.88 462.3v2.2" stroke="#1f4fd0" stroke-width="1"/>
<path d="M40.45 465.05h2.2M41.55 463.95v2.2" stroke="#1f4fd0" stroke-width="1"/>
<path d="M42.2 466.45h2.2M43.3 465.35v2.2" stroke="#1f4fd0" stroke-width="1"/>
<path d="M43.8 466.95h2.2M44.9 465.85v2.2" stroke="#1f4fd0" stroke-width="1"/>
<path d="M45.6 467.48h2.2M46.7 466.38v2.2" stroke="#1f4fd0" stroke-width="1"/>
<path d="M47.6 468.02h2.2M48.7 466.92v2.2" stroke="#1f4fd0" stroke-width="1"/>
<path d="M49.8 469.5h2.2M50.9 468.4v2.2" stroke="#1f4fd0" stroke-width="1"/>
<path d="M52.2 472.45h2.2M53.3 471.35v2.2" stroke="#1f4fd0" stroke-width="1"/>
<path d="M54.2 475.32h2.2M55.3 474.22v2.2" stroke="#1f4fd0" stroke-width="1"/>
<path d="M55.8 477.57h2.2M56.9 476.47v2.2" stroke="#1f4fd0" stroke-width="1"/>
<path d="M57.43 479.3h2.2M58.53 478.2v2.2" stroke="#1f4fd0" stroke-width="1"/>
<path d="M59.07 480.5h2.2M60.17 479.4v2.2" stroke="#1f4fd0" stroke-width="1"/>
<path d="M61.1 481.7h2.2M62.2 480.6v2.2" stroke="#1f4fd0" stroke-width="1"/>
<path d="M63.5 484.35h2.2M64.6 483.25v2.2" stroke="#1f4fd0" stroke-width="1"/>
<path d="M65.9 488.6h2.2M67 487.5v2.2" stroke="#1f4fd0" stroke-width="1"/>
<path d="M68.3 492.4h2.2M69.4 491.3v2.2" stroke="#1f4fd0" stroke-width="1"/>
<path d="M70.3 494.52h2.2M71.4 493.42v2.2" stroke="#1f4fd0" stroke-width="1"/>
<path d="M71.9 495.58h2.2M73 494.48v2.2" stroke="#1f4fd0" stroke-width="1"/>
<path d="M73.9 498.25h2.2M75 497.15v2.2" stroke="#1f4fd0" stroke-width="1"/>
<path d="M75.9 500.92h2.2M77 499.82v2.2" stroke="#1f4fd0" stroke-width="1"/>
<path d="M77.5 501.98h2.2M78.6 500.88v2.2" stroke="#1f4fd0" stroke-width="1"/>
<path d="M79.1 503.05h2.2M80.2 501.95v2.2" stroke="#1f4fd0" stroke-width="1"/>
<path d="M80.7 504.15h2.2M81.8 503.05v2.2" stroke="#1f4fd0" stroke-width="1"/>
<path d="M82.3 505.15h2.2M83.4 504.05v2.2" stroke="#1f4fd0" stroke-width="1"/>
<path d="M83.9 506.05h2.2M85 504.95v2.2" stroke="#1f4fd0" stroke-width="1"/>
<path d="M85.95 508.25h2.2M87.05 507.15v2.2" stroke="#1f4fd0" stroke-width="1"/>
<path d="M94.78 518.9h2.2M95.88 517.8v2.2" stroke="#1f4fd0" stroke-width="1"/>
<path d="M96.13 520.5h2.2M97.23 519.4v2.2" stroke="#1f4fd0" stroke-width="1"/>
<path d="M98.2 521.7h2.2M99.3 520.6v2.2" stroke="#1f4fd0" stroke-width="1"/>
<path d="M101 522.5h2.2M102.1 521.4v2.2" stroke="#1f4fd0" stroke-width="1"/>
<path d="M103.2 523.17h2.2M104.3 522.07v2.2" stroke="#1f4fd0" stroke-width="1"/>
<path d="M104.8 523.73h2.2M105.9 522.62v2.2" stroke="#1f4fd0" stroke-width="1"/>
<path d="M106.7 526.1h2.2M107.8 525v2.2" stroke="#1f4fd0" stroke-width="1"/>
<path d="M108.65 530.6h2.2M109.75 529.5v2.2" stroke="#1f4fd0" stroke-width="1"/>
<path d="M110.38 533.5h2.2M111.47 532.4v2.2" stroke="#1f4fd0" stroke-width="1"/>
<path d="M112.12 534.5h2.2M113.22 533.4v2.2" stroke="#1f4fd0" stroke-width="1"/>
<path d="M114 535.62h2.2M115.1 534.52v2.2" stroke="#1f4fd0" stroke-width="1"/>
<path d="M116 536.88h2.2M117.1 535.77v2.2" stroke="#1f4fd0" stroke-width="1"/>
<path d="M118 538h2.2M119.1 536.9v2.2" stroke="#1f4fd0" stroke-width="1"/>
<path d="M120 539h2.2M121.1 537.9v2.2" stroke="#1f4fd0" stroke-width="1"/>
<path d="M121.8 540.2h2.2M122.9 539.1v2.2" stroke="#1f4fd0" stroke-width="1"/>
<path d="M123.4 541.6h2.2M124.5 540.5v2.2" stroke="#1f4fd0" stroke-width="1"/>
<path d="M125.4 543h2.2M126.5 541.9v2.2" stroke="#1f4fd0" stroke-width="1"/>
<path d="M127.8 544.4h2.2M128.9 543.3v2.2" stroke="#1f4fd0" stroke-width="1"/>
<path d="M129.83 545.62h2.2M130.93 544.52v2.2" stroke="#1f4fd0" stroke-width="1"/>
<path d="M131.47 546.68h2.2M132.57 545.58v2.2" stroke="#1f4fd0" stroke-width="1"/>
<path d="M133.9 547.2h2.2M135 546.1v2.2" stroke="#1f4fd0" stroke-width="1"/>
<path d="M137.1 547.2h2.2M138.2 546.1v2.2" stroke="#1f4fd0" stroke-width="1"/>
<path d="M139.9 548.55h2.2M141 547.45v2.2" stroke="#1f4fd0" stroke-width="1"/>
<path d="M141.9 550.02h2.2M143 548.92v2.2" stroke="#1f4fd0" stroke-width="1"/>
<path d="M143.5 550.27h2.2M144.6 549.17v2.2" stroke="#1f4fd0" stroke-width="1"/>
<path d="M145.4 553.6h2.2M146.5 552.5v2.2" stroke="#1f4fd0" stroke-width="1"/>
<path d="M147.5 553.6h2.2M148.6 552.5v2.2" stroke="#1f4fd0" stroke-width="1"/>
<path d="M149.3 553.6h2.2M150.4 552.5v2.2" stroke="#1f4fd0" stroke-width="1"/>
<path d="M150.9 553.6h2.2M152 552.5v2.2" stroke="#1f4fd0" stroke-width="1"/>
<path d="M152.5 553.6h2.2M153.6 552.5v2.2" stroke="#1f4fd0" stroke-width="1"/>
<path d="M156.3 553.6h2.2M157.4 552.5v2.2" stroke="#1f4fd0" stroke-width="1"/>
<path d="M188.2 553.6h2.2M189.3 552.5v2.2" stroke="#1f4fd0" stroke-width="1"/>
<path d="M30.8 458.2L40.6 458.2L40.6 468.6L47.6 468.6L47.6 478.7L48.4 478.7L48.4 490.4L66.9 490.4L66.9 501.2L67.7 501.2L67.7 513.3L68.2 513.3L68.2 525.3L85 525.3L85 538.9L89.4 538.9L89.4 552.6L107.7 552.6L107.7 569.2L108.9 569.2L108.9 586L125.7 586L125.7 603.4L161.9 603.4L161.9 619.2" fill="none" stroke="#e8836a" stroke-width="0.6"/>
<path d="M63.9 490.4h2.2M65 489.3v2.2" stroke="#d8381c" stroke-width="0.9"/>
<path d="M82.8 525.3h2.2M83.9 524.2v2.2" stroke="#d8381c" stroke-width="0.9"/>
<path d="M100.1 552.6h2.2M101.2 551.5v2.2" stroke="#d8381c" stroke-width="0.9"/>
<text x="14" y="646.2" font-size="5" fill="#222" font-weight="bold" stroke="#222" stroke-width="0.15" textLength="12.8" lengthAdjust="spacingAndGlyphs">Overall</text>
<rect x="14.9" y="652.9" width="3" height="4.4" fill="#d8401c"/>
<text x="21" y="656.7" font-size="5" fill="#333" stroke="#333" stroke-width="0.2" textLength="22.8" lengthAdjust="spacingAndGlyphs">Altered group</text>
<rect x="14.9" y="660.3" width="3" height="4.4" fill="#1f55e0"/>
<text x="21" y="663.7" font-size="5" fill="#333" stroke="#333" stroke-width="0.2" textLength="27.7" lengthAdjust="spacingAndGlyphs">Unaltered group</text>
</g>
<g id="pG">
<text x="208.9" y="447.6" font-size="20" class="sf" textLength="11.1" lengthAdjust="spacingAndGlyphs">G</text>
<text x="214.3" y="500.4" font-size="24.7" class="sf" textLength="220" lengthAdjust="spacingAndGlyphs">CNV percentage in each cancer</text>
<ellipse cx="220.7" cy="541" rx="4.4" ry="6" fill="#c0c0c0"/>
<path d="M220.7 541L220.7 535A4.4 6 0 0 0 216.52 542.85Z" fill="#f23a3a"/>
<path d="M220.7 541L216.52 542.85A4.4 6 0 0 0 218.58 546.26Z" fill="#62d0a2"/>
<text font-size="6.6" class="sf" fill="#222" transform="translate(222.9,531.4) rotate(-90) scale(1.08,1)">LUAD</text>
<ellipse cx="232.27" cy="541" rx="4.4" ry="6" fill="#c0c0c0"/>
<path d="M232.27 541L232.27 535A4.4 6 0 0 0 228.41 543.89Z" fill="#f23a3a"/>
<path d="M232.27 541L228.41 543.89A4.4 6 0 0 0 230.15 546.26Z" fill="#7a1414"/>
<path d="M232.27 541L230.15 546.26A4.4 6 0 0 0 231.45 546.89Z" fill="#62d0a2"/>
<path d="M232.27 541L231.45 546.89A4.4 6 0 0 0 231.99 546.99Z" fill="#2e7e5e"/>
<text font-size="6.6" class="sf" fill="#222" transform="translate(234.47,531.4) rotate(-90) scale(1.08,1)">OV</text>
<ellipse cx="243.84" cy="541" rx="4.4" ry="6" fill="#c0c0c0"/>
<path d="M243.84 541L243.84 535A4.4 6 0 0 0 239.44 541Z" fill="#f23a3a"/>
<text font-size="6.6" class="sf" fill="#222" transform="translate(246.04,531.4) rotate(-90) scale(1.08,1)">DLBC</text>
<ellipse cx="255.41" cy="541" rx="4.4" ry="6" fill="#c0c0c0"/>
<path d="M255.41 541L255.41 535A4.4 6 0 0 0 251.04 541.75Z" fill="#f23a3a"/>
<path d="M255.41 541L251.04 541.75A4.4 6 0 0 0 255.96 546.95Z" fill="#62d0a2"/>
<text font-size="6.6" class="sf" fill="#222" transform="translate(257.61,531.4) rotate(-90) scale(1.08,1)">ESCA</text>
<ellipse cx="266.98" cy="541" rx="4.4" ry="6" fill="#c0c0c0"/>
<path d="M266.98 541L266.98 535A4.4 6 0 0 0 266.16 535.11Z" fill="#f23a3a"/>
<text font-size="6.6" class="sf" fill="#222" transform="translate(269.18,531.4) rotate(-90) scale(1.08,1)">KIRP</text>
<ellipse cx="278.55" cy="541" rx="4.4" ry="6" fill="#c0c0c0"/>
<path d="M278.55 541L278.55 535A4.4 6 0 0 0 274.15 541Z" fill="#f23a3a"/>
<path d="M278.55 541L274.15 541A4.4 6 0 0 0 276.43 546.26Z" fill="#62d0a2"/>
<text font-size="6.6" class="sf" fill="#222" transform="translate(280.75,531.4) rotate(-90) scale(1.08,1)">STAD</text>
<ellipse cx="290.12" cy="541" rx="4.4" ry="6" fill="#c0c0c0"/>
<path d="M290.12 541L290.12 535A4.4 6 0 0 0 288.76 535.29Z" fill="#f23a3a"/>
<path d="M290.12 541L288.76 535.29A4.4 6 0 0 0 287.11 545.37Z" fill="#62d0a2"/>
<text font-size="6.6" class="sf" fill="#222" transform="translate(292.32,531.4) rotate(-90) scale(1.08,1)">ACC</text>
<ellipse cx="301.69" cy="541" rx="4.4" ry="6" fill="#c0c0c0"/>
<path d="M301.69 541L301.69 535A4.4 6 0 0 0 297.37 539.88Z" fill="#f23a3a"/>
<path d="M301.69 541L297.37 539.88A4.4 6 0 0 0 302.24 546.95Z" fill="#62d0a2"/>
<text font-size="6.6" class="sf" fill="#222" transform="translate(303.89,531.4) rotate(-90) scale(1.08,1)">HNSC</text>
<ellipse cx="313.26" cy="541" rx="4.4" ry="6" fill="#c0c0c0"/>
<path d="M313.26 541L313.26 535A4.4 6 0 0 0 308.94 539.88Z" fill="#f23a3a"/>
<path d="M313.26 541L308.94 539.88A4.4 6 0 0 0 311.14 546.26Z" fill="#62d0a2"/>
<text font-size="6.6" class="sf" fill="#222" transform="translate(315.46,531.4) rotate(-90) scale(1.08,1)">READ</text>
<ellipse cx="324.83" cy="541" rx="4.4" ry="6" fill="#c0c0c0"/>
<path d="M324.83 541L324.83 535A4.4 6 0 0 0 321.82 536.63Z" fill="#f23a3a"/>
<text font-size="6.6" class="sf" fill="#222" transform="translate(327.03,531.4) rotate(-90) scale(1.08,1)">UVM</text>
<ellipse cx="336.4" cy="541" rx="4.4" ry="6" fill="#c0c0c0"/>
<path d="M336.4 541L336.4 535A4.4 6 0 0 0 333.39 536.63Z" fill="#f23a3a"/>
<path d="M336.4 541L333.39 536.63A4.4 6 0 0 0 332 541Z" fill="#62d0a2"/>
<text font-size="6.6" class="sf" fill="#222" transform="translate(338.6,531.4) rotate(-90) scale(1.08,1)">COAD</text>
<ellipse cx="347.97" cy="541" rx="4.4" ry="6" fill="#c0c0c0"/>
<path d="M347.97 541L347.97 535A4.4 6 0 0 0 343.6 541.75Z" fill="#f23a3a"/>
<path d="M347.97 541L343.6 541.75A4.4 6 0 0 0 347.97 547Z" fill="#62d0a2"/>
<text font-size="6.6" class="sf" fill="#222" transform="translate(350.17,531.4) rotate(-90) scale(1.08,1)">LUSC</text>
<ellipse cx="359.54" cy="541" rx="4.4" ry="6" fill="#c0c0c0"/>
<path d="M359.54 541L359.54 535A4.4 6 0 0 0 357.67 535.57Z" fill="#f23a3a"/>
<text font-size="6.6" class="sf" fill="#222" transform="translate(361.74,531.4) rotate(-90) scale(1.08,1)">PRAD</text>
<ellipse cx="371.11" cy="541" rx="4.4" ry="6" fill="#c0c0c0"/>
<path d="M371.11 541L371.11 535A4.4 6 0 0 0 368.99 535.74Z" fill="#f23a3a"/>
<path d="M371.11 541L368.99 535.74A4.4 6 0 0 0 368.31 536.38Z" fill="#62d0a2"/>
<text font-size="6.6" class="sf" fill="#222" transform="translate(373.31,531.4) rotate(-90) scale(1.08,1)">PAAD</text>
<ellipse cx="382.68" cy="541" rx="4.4" ry="6" fill="#c0c0c0"/>
<path d="M382.68 541L382.68 535A4.4 6 0 0 0 380.09 536.15Z" fill="#f23a3a"/>
<path d="M382.68 541L380.09 536.15A4.4 6 0 0 0 378.82 538.11Z" fill="#62d0a2"/>
<text font-size="6.6" class="sf" fill="#222" transform="translate(384.88,531.4) rotate(-90) scale(1.08,1)">UCEC</text>
<ellipse cx="394.25" cy="541" rx="4.4" ry="6" fill="#c0c0c0"/>
<path d="M394.25 541L394.25 535A4.4 6 0 0 0 393.16 535.19Z" fill="#62d0a2"/>
<text font-size="6.6" class="sf" fill="#222" transform="translate(396.45,531.4) rotate(-90) scale(1.08,1)">THYM</text>
<ellipse cx="405.82" cy="541" rx="4.4" ry="6" fill="#c0c0c0"/>
<path d="M405.82 541L405.82 535A4.4 6 0 0 0 405.27 535.05Z" fill="#f23a3a"/>
<text font-size="6.6" class="sf" fill="#222" transform="translate(408.02,531.4) rotate(-90) scale(1.08,1)">LAML</text>
<ellipse cx="417.39" cy="541" rx="4.4" ry="6" fill="#c0c0c0"/>
<path d="M417.39 541L417.39 535A4.4 6 0 0 0 413.41 538.45Z" fill="#f23a3a"/>
<path d="M417.39 541L413.41 538.45A4.4 6 0 0 0 413 541.38Z" fill="#7a1414"/>
<path d="M417.39 541L413 541.38A4.4 6 0 0 0 417.39 547Z" fill="#62d0a2"/>
<text font-size="6.6" class="sf" fill="#222" transform="translate(419.59,531.4) rotate(-90) scale(1.08,1)">BRCA</text>
<ellipse cx="428.96" cy="541" rx="4.4" ry="6" fill="#c0c0c0"/>
<path d="M428.96 541L428.96 535A4.4 6 0 0 0 426.84 535.74Z" fill="#f23a3a"/>
<text font-size="6.6" class="sf" fill="#222" transform="translate(431.16,531.4) rotate(-90) scale(1.08,1)">LGG</text>
<ellipse cx="440.53" cy="541" rx="4.4" ry="6" fill="#c0c0c0"/>
<text font-size="6.6" class="sf" fill="#222" transform="translate(442.73,531.4) rotate(-90) scale(1.08,1)">THCA</text>
<ellipse cx="452.1" cy="541" rx="4.4" ry="6" fill="#c0c0c0"/>
<path d="M452.1 541L452.1 535A4.4 6 0 0 0 450.74 535.29Z" fill="#f23a3a"/>
<text font-size="6.6" class="sf" fill="#222" transform="translate(454.3,531.4) rotate(-90) scale(1.08,1)">KIRC</text>
<ellipse cx="463.67" cy="541" rx="4.4" ry="6" fill="#c0c0c0"/>
<path d="M463.67 541L463.67 535A4.4 6 0 0 0 461.8 535.57Z" fill="#f23a3a"/>
<path d="M463.67 541L461.8 535.57A4.4 6 0 0 0 459.41 542.49Z" fill="#62d0a2"/>
<text font-size="6.6" class="sf" fill="#222" transform="translate(465.87,531.4) rotate(-90) scale(1.08,1)">LIHC</text>
<ellipse cx="475.24" cy="541" rx="4.4" ry="6" fill="#c0c0c0"/>
<path d="M475.24 541L475.24 535A4.4 6 0 0 0 471.06 539.15Z" fill="#f23a3a"/>
<path d="M475.24 541L471.06 539.15A4.4 6 0 0 0 473.12 546.26Z" fill="#62d0a2"/>
<text font-size="6.6" class="sf" fill="#222" transform="translate(477.44,531.4) rotate(-90) scale(1.08,1)">BLCA</text>
<ellipse cx="486.81" cy="541" rx="4.4" ry="6" fill="#c0c0c0"/>
<path d="M486.81 541L486.81 535A4.4 6 0 0 0 482.49 539.88Z" fill="#f23a3a"/>
<path d="M486.81 541L482.49 539.88A4.4 6 0 0 0 482.42 540.62Z" fill="#62d0a2"/>
<text font-size="6.6" class="sf" fill="#222" transform="translate(489.01,531.4) rotate(-90) scale(1.08,1)">MESO</text>
<ellipse cx="498.38" cy="541" rx="4.4" ry="6" fill="#c0c0c0"/>
<path d="M498.38 541L498.38 535A4.4 6 0 0 0 495.79 536.15Z" fill="#f23a3a"/>
<path d="M498.38 541L495.79 536.15A4.4 6 0 0 0 495.79 545.85Z" fill="#62d0a2"/>
<text font-size="6.6" class="sf" fill="#222" transform="translate(500.58,531.4) rotate(-90) scale(1.08,1)">CESC</text>
<ellipse cx="509.95" cy="541" rx="4.4" ry="6" fill="#c0c0c0"/>
<path d="M509.95 541L509.95 535A4.4 6 0 0 0 506.56 537.18Z" fill="#f23a3a"/>
<path d="M509.95 541L506.56 537.18A4.4 6 0 0 0 506.09 538.11Z" fill="#7a1414"/>
<path d="M509.95 541L506.09 538.11A4.4 6 0 0 0 509.13 546.89Z" fill="#62d0a2"/>
<text font-size="6.6" class="sf" fill="#222" transform="translate(512.15,531.4) rotate(-90) scale(1.08,1)">SKCM</text>
<ellipse cx="521.52" cy="541" rx="4.4" ry="6" fill="#c0c0c0"/>
<path d="M521.52 541L521.52 535A4.4 6 0 0 0 517.34 542.85Z" fill="#f23a3a"/>
<path d="M521.52 541L517.34 542.85A4.4 6 0 0 0 517.96 544.53Z" fill="#62d0a2"/>
<text font-size="6.6" class="sf" fill="#222" transform="translate(523.72,531.4) rotate(-90) scale(1.08,1)">KICH</text>
<ellipse cx="533.09" cy="541" rx="4.4" ry="6" fill="#c0c0c0"/>
<path d="M533.09 541L533.09 535A4.4 6 0 0 0 528.77 542.12Z" fill="#f23a3a"/>
<path d="M533.09 541L528.77 542.12A4.4 6 0 0 0 536.81 544.21Z" fill="#62d0a2"/>
<text font-size="6.6" class="sf" fill="#222" transform="translate(535.29,531.4) rotate(-90) scale(1.08,1)">UCS</text>
<ellipse cx="544.66" cy="541" rx="4.4" ry="6" fill="#c0c0c0"/>
<path d="M544.66 541L544.66 535A4.4 6 0 0 0 543.3 535.29Z" fill="#f23a3a"/>
<path d="M544.66 541L543.3 535.29A4.4 6 0 0 0 541.45 536.89Z" fill="#62d0a2"/>
<text font-size="6.6" class="sf" fill="#222" transform="translate(546.86,531.4) rotate(-90) scale(1.08,1)">GBM</text>
<ellipse cx="556.23" cy="541" rx="4.4" ry="6" fill="#c0c0c0"/>
<path d="M556.23 541L556.23 535A4.4 6 0 0 0 552.51 537.79Z" fill="#f23a3a"/>
<path d="M556.23 541L552.51 537.79A4.4 6 0 0 0 553.22 545.37Z" fill="#62d0a2"/>
<text font-size="6.6" class="sf" fill="#222" transform="translate(558.43,531.4) rotate(-90) scale(1.08,1)">SARC</text>
<ellipse cx="567.8" cy="541" rx="4.4" ry="6" fill="#c0c0c0"/>
<path d="M567.8 541L567.8 535A4.4 6 0 0 0 564.79 536.63Z" fill="#f23a3a"/>
<path d="M567.8 541L564.79 536.63A4.4 6 0 0 0 564.08 544.21Z" fill="#62d0a2"/>
<text font-size="6.6" class="sf" fill="#222" transform="translate(570,531.4) rotate(-90) scale(1.08,1)">CHOL</text>
<ellipse cx="579.37" cy="541" rx="4.4" ry="6" fill="#c0c0c0"/>
<path d="M579.37 541L579.37 535A4.4 6 0 0 0 578.82 535.05Z" fill="#f23a3a"/>
<path d="M579.37 541L578.82 535.05A4.4 6 0 0 0 575.98 537.18Z" fill="#62d0a2"/>
<text font-size="6.6" class="sf" fill="#222" transform="translate(581.57,531.4) rotate(-90) scale(1.08,1)">PCPG</text>
<ellipse cx="590.94" cy="541" rx="4.4" ry="6" fill="#c0c0c0"/>
<path d="M590.94 541L590.94 535A4.4 6 0 0 0 590.66 535.01Z" fill="#f23a3a"/>
<path d="M590.94 541L590.66 535.01A4.4 6 0 1 0 595.2 539.51Z" fill="#62d0a2"/>
<text font-size="6.6" class="sf" fill="#222" transform="translate(593.14,531.4) rotate(-90) scale(1.08,1)">TGCT</text>
<text x="596.7" y="544" font-size="8" class="sf" fill="#222" stroke="#222" stroke-width="0.2" textLength="14.6" lengthAdjust="spacingAndGlyphs">GAB2</text>
<rect x="618.7" y="533.6" width="4.3" height="6.3" fill="#f23a3a"/>
<text x="623.7" y="539.4" font-size="5.4" class="sf" fill="#222" stroke="#222" stroke-width="0.2" textLength="20.8" lengthAdjust="spacingAndGlyphs">Hete. Amp.</text>
<rect x="618.7" y="541.1" width="4.3" height="6.3" fill="#7a1414"/>
<text x="623.7" y="546" font-size="5.4" class="sf" fill="#222" stroke="#222" stroke-width="0.2" textLength="22.3" lengthAdjust="spacingAndGlyphs">Homo. Amp</text>
<rect x="618.7" y="548" width="4.3" height="6.3" fill="#62d0a2"/>
<text x="623.7" y="553" font-size="5.4" class="sf" fill="#222" stroke="#222" stroke-width="0.2" textLength="19.1" lengthAdjust="spacingAndGlyphs">.Hete. Del.</text>
<rect x="618.7" y="556" width="4.3" height="6.3" fill="#2e7e5e"/>
<text x="623.7" y="559.7" font-size="5.4" class="sf" fill="#222" stroke="#222" stroke-width="0.2" textLength="20.8" lengthAdjust="spacingAndGlyphs">Homo. Del.</text>
<rect x="618.7" y="564.7" width="4.3" height="6.3" fill="#c0c0c0"/>
<text x="627.9" y="570.4" font-size="5.4" class="sf" fill="#222" stroke="#222" stroke-width="0.2" textLength="8.7" lengthAdjust="spacingAndGlyphs">None</text>
</g>
<g id="pH">
<defs><linearGradient id="gsp" x1="0" y1="0" x2="0" y2="1"><stop offset="0" stop-color="#ff2a1a"/><stop offset="0.5" stop-color="#ffffff"/><stop offset="1" stop-color="#2a1aff"/></linearGradient></defs>
<text x="2" y="697" font-size="19.5" class="sf" textLength="10" lengthAdjust="spacingAndGlyphs">H</text>
<text x="19.2" y="707.6" font-size="11.4" class="sf" fill="#111" textLength="166.3" lengthAdjust="spacingAndGlyphs">Correlations of CNV with mRNA expression</text>
<path d="M24.3 710.3V839M31.9 710.3V839M39.5 710.3V839M47.1 710.3V839M54.7 710.3V839M62.3 710.3V839M69.9 710.3V839M77.5 710.3V839M85.1 710.3V839M92.7 710.3V839M100.3 710.3V839M107.9 710.3V839M115.5 710.3V839M123.1 710.3V839M130.7 710.3V839M138.3 710.3V839M145.9 710.3V839M153.5 710.3V839M161.1 710.3V839M168.7 710.3V839M176.3 710.3V839M183.9 710.3V839M191.5 710.3V839M199.1 710.3V839M206.7 710.3V839M214.3 710.3V839M221.9 710.3V839M229.5 710.3V839M237.1 710.3V839M244.7 710.3V839M252.3 710.3V839M259.9 710.3V839M267.5 710.3V839" stroke="#dcdcdc" stroke-width="0.45" stroke-dasharray="0.9 0.9" fill="none"/>
<line x1="19.9" y1="746" x2="272.4" y2="746" stroke="#e4e4e4" stroke-width="0.4" stroke-dasharray="0.9 0.9"/>
<line x1="19.9" y1="710.3" x2="19.9" y2="839" stroke="#8a8a8a" stroke-width="0.8"/>
<line x1="272.4" y1="710.3" x2="272.4" y2="839" stroke="#9a9a9a" stroke-width="0.8"/>
<line x1="19.5" y1="839" x2="272.8" y2="839" stroke="#555" stroke-width="0.8"/>
<line x1="19.5" y1="710.3" x2="272.8" y2="710.3" stroke="#555" stroke-width="0.8"/>
<line x1="18.6" y1="746" x2="19.9" y2="746" stroke="#222" stroke-width="0.5"/>
<line x1="18.6" y1="804.4" x2="19.9" y2="804.4" stroke="#222" stroke-width="0.5"/>
<ellipse cx="24.3" cy="746" rx="0.6" ry="0.9" fill="#c6c6c6"/>
<ellipse cx="31.9" cy="746" rx="0.6" ry="0.9" fill="#c6c6c6"/>
<ellipse cx="39.5" cy="746" rx="0.6" ry="0.9" fill="#c6c6c6"/>
<ellipse cx="47.1" cy="746" rx="0.6" ry="0.9" fill="#c6c6c6"/>
<ellipse cx="54.7" cy="746" rx="0.6" ry="0.9" fill="#c6c6c6"/>
<ellipse cx="62.3" cy="746" rx="0.6" ry="0.9" fill="#c6c6c6"/>
<ellipse cx="69.9" cy="746" rx="0.6" ry="0.9" fill="#c6c6c6"/>
<ellipse cx="77.5" cy="746" rx="0.6" ry="0.9" fill="#c6c6c6"/>
<ellipse cx="85.1" cy="746" rx="1.05" ry="1.89" fill="#2a2420"/>
<ellipse cx="92.7" cy="746" rx="0.6" ry="0.9" fill="#c6c6c6"/>
<ellipse cx="100.3" cy="746" rx="0.6" ry="0.9" fill="#c6c6c6"/>
<ellipse cx="107.9" cy="746" rx="1.05" ry="1.89" fill="#2a2420"/>
<ellipse cx="115.5" cy="746" rx="0.6" ry="0.9" fill="#c6c6c6"/>
<ellipse cx="123.1" cy="746" rx="1.05" ry="1.89" fill="#2a2420"/>
<ellipse cx="130.7" cy="746" rx="1.05" ry="1.89" fill="#2a2420"/>
<ellipse cx="138.3" cy="746" rx="1.05" ry="1.89" fill="#2a2420"/>
<ellipse cx="145.9" cy="746" rx="0.6" ry="0.9" fill="#c6c6c6"/>
<ellipse cx="153.5" cy="746" rx="1" ry="1.75" fill="#f6d6ca" stroke="#2c1610" stroke-width="1"/>
<ellipse cx="161.1" cy="746" rx="1.02" ry="1.78" fill="#f5cfc2" stroke="#2c1610" stroke-width="1"/>
<ellipse cx="168.7" cy="746" rx="1.04" ry="1.81" fill="#f4c9ba" stroke="#2c1610" stroke-width="1"/>
<ellipse cx="176.3" cy="746" rx="1.06" ry="1.85" fill="#f4c2b3" stroke="#2c1610" stroke-width="1"/>
<ellipse cx="183.9" cy="746" rx="1.08" ry="1.88" fill="#f3bcab" stroke="#2c1610" stroke-width="1"/>
<ellipse cx="191.5" cy="746" rx="1.1" ry="1.91" fill="#f3b6a3" stroke="#2c1610" stroke-width="1"/>
<ellipse cx="199.1" cy="746" rx="1.12" ry="1.95" fill="#f2af9c" stroke="#2c1610" stroke-width="1"/>
<ellipse cx="206.7" cy="746" rx="1.14" ry="1.98" fill="#f2a994" stroke="#2c1610" stroke-width="1"/>
<ellipse cx="214.3" cy="746" rx="1.16" ry="2.01" fill="#f1a38c" stroke="#2c1610" stroke-width="1"/>
<ellipse cx="221.9" cy="746" rx="1.18" ry="2.04" fill="#f19c85" stroke="#2c1610" stroke-width="1"/>
<ellipse cx="229.5" cy="746" rx="1.2" ry="2.08" fill="#f0967d" stroke="#2c1610" stroke-width="1"/>
<ellipse cx="237.1" cy="746" rx="1.22" ry="2.11" fill="#f09076" stroke="#2c1610" stroke-width="1"/>
<ellipse cx="244.7" cy="746" rx="0.6" ry="0.9" fill="#c6c6c6"/>
<ellipse cx="252.3" cy="746" rx="1.73" ry="2.96" fill="#f08a68" stroke="#2c1610" stroke-width="1.05"/>
<ellipse cx="259.9" cy="746" rx="1.83" ry="3.12" fill="#f0906e" stroke="#2c1610" stroke-width="1.05"/>
<ellipse cx="267.5" cy="746" rx="1.77" ry="3.04" fill="#ee7c58" stroke="#2c1610" stroke-width="1.05"/>
<text x="2" y="748" font-size="6.4" class="sf" fill="#222" stroke="#222" stroke-width="0.2" textLength="14.6" lengthAdjust="spacingAndGlyphs">GAB2</text>
<text font-size="6.6" class="sf" fill="#222" stroke="#222" stroke-width="0.2" text-anchor="middle" textLength="23.4" lengthAdjust="spacingAndGlyphs" transform="translate(6.6,774) rotate(-90)">Symbol</text>
<text font-size="5.2" class="sf" fill="#222" stroke="#222" stroke-width="0.2" font-style="italic" text-anchor="end" transform="translate(27.3,845.2) rotate(-45) scale(1.1,1)">UVM</text>
<line x1="24.3" y1="839" x2="24.3" y2="840.3" stroke="#222" stroke-width="0.45"/>
<text font-size="5.2" class="sf" fill="#222" stroke="#222" stroke-width="0.2" font-style="italic" text-anchor="end" transform="translate(34.9,845.2) rotate(-45) scale(1.1,1)">THYM</text>
<line x1="31.9" y1="839" x2="31.9" y2="840.3" stroke="#222" stroke-width="0.45"/>
<text font-size="5.2" class="sf" fill="#222" stroke="#222" stroke-width="0.2" font-style="italic" text-anchor="end" transform="translate(42.5,845.2) rotate(-45) scale(1.1,1)">LAML</text>
<line x1="39.5" y1="839" x2="39.5" y2="840.3" stroke="#222" stroke-width="0.45"/>
<text font-size="5.2" class="sf" fill="#222" stroke="#222" stroke-width="0.2" font-style="italic" text-anchor="end" transform="translate(50.1,845.2) rotate(-45) scale(1.1,1)">DLBC</text>
<line x1="47.1" y1="839" x2="47.1" y2="840.3" stroke="#222" stroke-width="0.45"/>
<text font-size="5.2" class="sf" fill="#222" stroke="#222" stroke-width="0.2" font-style="italic" text-anchor="end" transform="translate(57.7,845.2) rotate(-45) scale(1.1,1)">THCA</text>
<line x1="54.7" y1="839" x2="54.7" y2="840.3" stroke="#222" stroke-width="0.45"/>
<text font-size="5.2" class="sf" fill="#222" stroke="#222" stroke-width="0.2" font-style="italic" text-anchor="end" transform="translate(65.3,845.2) rotate(-45) scale(1.1,1)">UCEC</text>
<line x1="62.3" y1="839" x2="62.3" y2="840.3" stroke="#222" stroke-width="0.45"/>
<text font-size="5.2" class="sf" fill="#222" stroke="#222" stroke-width="0.2" font-style="italic" text-anchor="end" transform="translate(72.9,845.2) rotate(-45) scale(1.1,1)">ACC</text>
<line x1="69.9" y1="839" x2="69.9" y2="840.3" stroke="#222" stroke-width="0.45"/>
<text font-size="5.2" class="sf" fill="#222" stroke="#222" stroke-width="0.2" font-style="italic" text-anchor="end" transform="translate(80.5,845.2) rotate(-45) scale(1.1,1)">READ</text>
<line x1="77.5" y1="839" x2="77.5" y2="840.3" stroke="#222" stroke-width="0.45"/>
<text font-size="5.2" class="sf" fill="#222" stroke="#222" stroke-width="0.2" font-style="italic" text-anchor="end" transform="translate(88.1,845.2) rotate(-45) scale(1.1,1)">COAD</text>
<line x1="85.1" y1="839" x2="85.1" y2="840.3" stroke="#222" stroke-width="0.45"/>
<text font-size="5.2" class="sf" fill="#222" stroke="#222" stroke-width="0.2" font-style="italic" text-anchor="end" transform="translate(95.7,845.2) rotate(-45) scale(1.1,1)">TGCT</text>
<line x1="92.7" y1="839" x2="92.7" y2="840.3" stroke="#222" stroke-width="0.45"/>
<text font-size="5.2" class="sf" fill="#222" stroke="#222" stroke-width="0.2" font-style="italic" text-anchor="end" transform="translate(103.3,845.2) rotate(-45) scale(1.1,1)">CHOL</text>
<line x1="100.3" y1="839" x2="100.3" y2="840.3" stroke="#222" stroke-width="0.45"/>
<text font-size="5.2" class="sf" fill="#222" stroke="#222" stroke-width="0.2" font-style="italic" text-anchor="end" transform="translate(110.9,845.2) rotate(-45) scale(1.1,1)">KIRC</text>
<line x1="107.9" y1="839" x2="107.9" y2="840.3" stroke="#222" stroke-width="0.45"/>
<text font-size="5.2" class="sf" fill="#222" stroke="#222" stroke-width="0.2" font-style="italic" text-anchor="end" transform="translate(118.5,845.2) rotate(-45) scale(1.1,1)">PRAD</text>
<line x1="115.5" y1="839" x2="115.5" y2="840.3" stroke="#222" stroke-width="0.45"/>
<text font-size="5.2" class="sf" fill="#222" stroke="#222" stroke-width="0.2" font-style="italic" text-anchor="end" transform="translate(126.1,845.2) rotate(-45) scale(1.1,1)">CESC</text>
<line x1="123.1" y1="839" x2="123.1" y2="840.3" stroke="#222" stroke-width="0.45"/>
<text font-size="5.2" class="sf" fill="#222" stroke="#222" stroke-width="0.2" font-style="italic" text-anchor="end" transform="translate(133.7,845.2) rotate(-45) scale(1.1,1)">UCS</text>
<line x1="130.7" y1="839" x2="130.7" y2="840.3" stroke="#222" stroke-width="0.45"/>
<text font-size="5.2" class="sf" fill="#222" stroke="#222" stroke-width="0.2" font-style="italic" text-anchor="end" transform="translate(141.3,845.2) rotate(-45) scale(1.1,1)">GBM</text>
<line x1="138.3" y1="839" x2="138.3" y2="840.3" stroke="#222" stroke-width="0.45"/>
<text font-size="5.2" class="sf" fill="#222" stroke="#222" stroke-width="0.2" font-style="italic" text-anchor="end" transform="translate(148.9,845.2) rotate(-45) scale(1.1,1)">MESO</text>
<line x1="145.9" y1="839" x2="145.9" y2="840.3" stroke="#222" stroke-width="0.45"/>
<text font-size="5.2" class="sf" fill="#222" stroke="#222" stroke-width="0.2" font-style="italic" text-anchor="end" transform="translate(156.5,845.2) rotate(-45) scale(1.1,1)">LIHC</text>
<line x1="153.5" y1="839" x2="153.5" y2="840.3" stroke="#222" stroke-width="0.45"/>
<text font-size="5.2" class="sf" fill="#222" stroke="#222" stroke-width="0.2" font-style="italic" text-anchor="end" transform="translate(164.1,845.2) rotate(-45) scale(1.1,1)">LUSC</text>
<line x1="161.1" y1="839" x2="161.1" y2="840.3" stroke="#222" stroke-width="0.45"/>
<text font-size="5.2" class="sf" fill="#222" stroke="#222" stroke-width="0.2" font-style="italic" text-anchor="end" transform="translate(171.7,845.2) rotate(-45) scale(1.1,1)">BLCA</text>
<line x1="168.7" y1="839" x2="168.7" y2="840.3" stroke="#222" stroke-width="0.45"/>
<text font-size="5.2" class="sf" fill="#222" stroke="#222" stroke-width="0.2" font-style="italic" text-anchor="end" transform="translate(179.3,845.2) rotate(-45) scale(1.1,1)">KIRP</text>
<line x1="176.3" y1="839" x2="176.3" y2="840.3" stroke="#222" stroke-width="0.45"/>
<text font-size="5.2" class="sf" fill="#222" stroke="#222" stroke-width="0.2" font-style="italic" text-anchor="end" transform="translate(186.9,845.2) rotate(-45) scale(1.1,1)">LUAD</text>
<line x1="183.9" y1="839" x2="183.9" y2="840.3" stroke="#222" stroke-width="0.45"/>
<text font-size="5.2" class="sf" fill="#222" stroke="#222" stroke-width="0.2" font-style="italic" text-anchor="end" transform="translate(194.5,845.2) rotate(-45) scale(1.1,1)">ESCA</text>
<line x1="191.5" y1="839" x2="191.5" y2="840.3" stroke="#222" stroke-width="0.45"/>
<text font-size="5.2" class="sf" fill="#222" stroke="#222" stroke-width="0.2" font-style="italic" text-anchor="end" transform="translate(202.1,845.2) rotate(-45) scale(1.1,1)">LGG</text>
<line x1="199.1" y1="839" x2="199.1" y2="840.3" stroke="#222" stroke-width="0.45"/>
<text font-size="5.2" class="sf" fill="#222" stroke="#222" stroke-width="0.2" font-style="italic" text-anchor="end" transform="translate(209.7,845.2) rotate(-45) scale(1.1,1)">SARC</text>
<line x1="206.7" y1="839" x2="206.7" y2="840.3" stroke="#222" stroke-width="0.45"/>
<text font-size="5.2" class="sf" fill="#222" stroke="#222" stroke-width="0.2" font-style="italic" text-anchor="end" transform="translate(217.3,845.2) rotate(-45) scale(1.1,1)">KICH</text>
<line x1="214.3" y1="839" x2="214.3" y2="840.3" stroke="#222" stroke-width="0.45"/>
<text font-size="5.2" class="sf" fill="#222" stroke="#222" stroke-width="0.2" font-style="italic" text-anchor="end" transform="translate(224.9,845.2) rotate(-45) scale(1.1,1)">PCPG</text>
<line x1="221.9" y1="839" x2="221.9" y2="840.3" stroke="#222" stroke-width="0.45"/>
<text font-size="5.2" class="sf" fill="#222" stroke="#222" stroke-width="0.2" font-style="italic" text-anchor="end" transform="translate(232.5,845.2) rotate(-45) scale(1.1,1)">HNSC</text>
<line x1="229.5" y1="839" x2="229.5" y2="840.3" stroke="#222" stroke-width="0.45"/>
<text font-size="5.2" class="sf" fill="#222" stroke="#222" stroke-width="0.2" font-style="italic" text-anchor="end" transform="translate(240.1,845.2) rotate(-45) scale(1.1,1)">STAD</text>
<line x1="237.1" y1="839" x2="237.1" y2="840.3" stroke="#222" stroke-width="0.45"/>
<text font-size="5.2" class="sf" fill="#222" stroke="#222" stroke-width="0.2" font-style="italic" text-anchor="end" transform="translate(247.7,845.2) rotate(-45) scale(1.1,1)">PAAD</text>
<line x1="244.7" y1="839" x2="244.7" y2="840.3" stroke="#222" stroke-width="0.45"/>
<text font-size="5.2" class="sf" fill="#222" stroke="#222" stroke-width="0.2" font-style="italic" text-anchor="end" transform="translate(255.3,845.2) rotate(-45) scale(1.1,1)">SKCM</text>
<line x1="252.3" y1="839" x2="252.3" y2="840.3" stroke="#222" stroke-width="0.45"/>
<text font-size="5.2" class="sf" fill="#222" stroke="#222" stroke-width="0.2" font-style="italic" text-anchor="end" transform="translate(262.9,845.2) rotate(-45) scale(1.1,1)">BRCA</text>
<line x1="259.9" y1="839" x2="259.9" y2="840.3" stroke="#222" stroke-width="0.45"/>
<text font-size="5.2" class="sf" fill="#222" stroke="#222" stroke-width="0.2" font-style="italic" text-anchor="end" transform="translate(270.5,845.2) rotate(-45) scale(1.1,1)">OV</text>
<line x1="267.5" y1="839" x2="267.5" y2="840.3" stroke="#222" stroke-width="0.45"/>
<text x="146.8" y="865.4" font-size="8.3" class="sf" fill="#111" stroke="#111" stroke-width="0.2" text-anchor="middle" textLength="28.2" lengthAdjust="spacingAndGlyphs">Cancer type</text>
<text x="280.8" y="702" font-size="7.4" class="sf" fill="#111" stroke="#111" stroke-width="0.2" textLength="33.6" lengthAdjust="spacingAndGlyphs">−Log10(FDR)</text>
<ellipse cx="282.9" cy="709.2" rx="0.85" ry="1.1" fill="#111"/>
<text x="288.2" y="710.8" font-size="4.6" class="sf" fill="#333" stroke="#333" stroke-width="0.2" textLength="2.1" lengthAdjust="spacingAndGlyphs">1</text>
<ellipse cx="282.9" cy="717.5" rx="0.85" ry="1.1" fill="#888" stroke="#111" stroke-width="0.6"/>
<text x="288.2" y="719.1" font-size="4.6" class="sf" fill="#333" stroke="#333" stroke-width="0.2" textLength="7.5" lengthAdjust="spacingAndGlyphs">0.05</text>
<ellipse cx="282.9" cy="726" rx="0.95" ry="1.23" fill="#888" stroke="#111" stroke-width="0.65"/>
<text x="288.2" y="727.6" font-size="4.6" class="sf" fill="#333" stroke="#333" stroke-width="0.2" textLength="7.5" lengthAdjust="spacingAndGlyphs">0.01</text>
<ellipse cx="282.9" cy="734.9" rx="1.05" ry="1.37" fill="#888" stroke="#111" stroke-width="0.7"/>
<text x="288.2" y="736.5" font-size="4.6" class="sf" fill="#333" stroke="#333" stroke-width="0.2" textLength="9.6" lengthAdjust="spacingAndGlyphs">0.001</text>
<ellipse cx="282.9" cy="744" rx="1.15" ry="1.49" fill="#888" stroke="#111" stroke-width="0.75"/>
<text x="288.2" y="745.6" font-size="4.6" class="sf" fill="#333" stroke="#333" stroke-width="0.2" textLength="16.1" lengthAdjust="spacingAndGlyphs">&lt;=0.0001</text>
<text x="280.8" y="768.2" font-size="7.4" class="sf" fill="#111" stroke="#111" stroke-width="0.2" textLength="32.8" lengthAdjust="spacingAndGlyphs">Spearman cor.</text>
<rect x="280.2" y="771.4" width="5.7" height="43.3" fill="url(#gsp)"/>
<text x="288.6" y="774.6" font-size="4.6" class="sf" fill="#333" stroke="#333" stroke-width="0.2" textLength="2" lengthAdjust="spacingAndGlyphs">1</text>
<text x="288.6" y="794.4" font-size="4.6" class="sf" fill="#333" stroke="#333" stroke-width="0.2" textLength="2" lengthAdjust="spacingAndGlyphs">0</text>
<text x="287.6" y="816" font-size="4.6" class="sf" fill="#333" stroke="#333" stroke-width="0.2" textLength="4" lengthAdjust="spacingAndGlyphs">−1</text>
<text x="280.2" y="834.8" font-size="7.4" class="sf" fill="#111" stroke="#111" stroke-width="0.2" textLength="11.2" lengthAdjust="spacingAndGlyphs">FDR</text>
<ellipse cx="282.9" cy="843.3" rx="0.9" ry="1.15" fill="#111"/>
<text x="287.7" y="844.9" font-size="4.6" class="sf" fill="#333" stroke="#333" stroke-width="0.2" textLength="12.6" lengthAdjust="spacingAndGlyphs">&lt;=0.05</text>
<ellipse cx="282.9" cy="851.3" rx="0.7" ry="0.9" fill="#c8c8c8"/>
<text x="287.7" y="852.9" font-size="4.6" class="sf" fill="#333" stroke="#333" stroke-width="0.2" textLength="9.9" lengthAdjust="spacingAndGlyphs">&gt;0.05</text>
</g>
<g id="pI">
<defs><linearGradient id="glr" x1="0" y1="0" x2="0" y2="1"><stop offset="0" stop-color="#e2dcfa"/><stop offset="0.1" stop-color="#e2dcfa"/><stop offset="0.13" stop-color="#fff6f2"/><stop offset="0.5" stop-color="#fca890"/><stop offset="1" stop-color="#f41a0e"/></linearGradient></defs>
<text x="334.6" y="693.6" font-size="19.5" class="sf" textLength="6" lengthAdjust="spacingAndGlyphs">I</text>
<text x="347.9" y="693.7" font-size="5.6" class="sf" fill="#222" textLength="78.8" lengthAdjust="spacingAndGlyphs">Survival difference between CNV groups</text>
<path d="M353.1 705.3V850.1M357.48 705.3V850.1M361.86 705.3V850.1M366.24 705.3V850.1M370.62 705.3V850.1M375 705.3V850.1M379.38 705.3V850.1M383.76 705.3V850.1M388.14 705.3V850.1M392.52 705.3V850.1M396.9 705.3V850.1M401.28 705.3V850.1M405.66 705.3V850.1M410.04 705.3V850.1M414.42 705.3V850.1M418.8 705.3V850.1M423.18 705.3V850.1M427.56 705.3V850.1M431.94 705.3V850.1M436.32 705.3V850.1M440.7 705.3V850.1M445.08 705.3V850.1M449.46 705.3V850.1M453.84 705.3V850.1M458.22 705.3V850.1M462.6 705.3V850.1M466.98 705.3V850.1M471.36 705.3V850.1M475.74 705.3V850.1M480.12 705.3V850.1M484.5 705.3V850.1M488.88 705.3V850.1M493.26 705.3V850.1" stroke="#dedede" stroke-width="0.4" stroke-dasharray="0.8 0.8" fill="none"/>
<line x1="351.4" y1="743.7" x2="495.6" y2="743.7" stroke="#e6e6e6" stroke-width="0.35" stroke-dasharray="0.8 0.8"/>
<rect x="351.4" y="705.3" width="144.2" height="144.8" fill="none" stroke="#777" stroke-width="0.55"/>
<rect x="351.4" y="696.6" width="144.2" height="8.7" fill="#fff" stroke="#666" stroke-width="0.55"/>
<line x1="351.4" y1="705.3" x2="495.6" y2="705.3" stroke="#333" stroke-width="0.8"/>
<text x="423.5" y="702.6" font-size="4.6" fill="#222" stroke="#222" stroke-width="0.2" text-anchor="middle" textLength="5.6" lengthAdjust="spacingAndGlyphs">OS</text>
<ellipse cx="353.1" cy="743.7" rx="0.9" ry="1.03" fill="#4a2a26"/>
<line x1="353.1" y1="850.1" x2="353.1" y2="851" stroke="#555" stroke-width="0.35"/>
<text font-size="3.9" fill="#333" stroke="#333" stroke-width="0.2" text-anchor="end" transform="translate(354.7,853.7) rotate(-45)">ACC</text>
<ellipse cx="357.48" cy="743.7" rx="1.27" ry="1.55" fill="#d86a58" stroke="#34201c" stroke-width="0.85"/>
<line x1="357.48" y1="850.1" x2="357.48" y2="851" stroke="#555" stroke-width="0.35"/>
<text font-size="3.9" fill="#333" stroke="#333" stroke-width="0.2" text-anchor="end" transform="translate(359.08,853.7) rotate(-45)">BLCA</text>
<ellipse cx="361.86" cy="743.7" rx="1.22" ry="1.49" fill="#c88478" stroke="#34201c" stroke-width="0.85"/>
<line x1="361.86" y1="850.1" x2="361.86" y2="851" stroke="#555" stroke-width="0.35"/>
<text font-size="3.9" fill="#333" stroke="#333" stroke-width="0.2" text-anchor="end" transform="translate(363.46,853.7) rotate(-45)">BRCA</text>
<ellipse cx="366.24" cy="743.7" rx="0.5" ry="0.55" fill="#c4c4c8"/>
<line x1="366.24" y1="850.1" x2="366.24" y2="851" stroke="#555" stroke-width="0.35"/>
<text font-size="3.9" fill="#333" stroke="#333" stroke-width="0.2" text-anchor="end" transform="translate(367.84,853.7) rotate(-45)">CESC</text>
<ellipse cx="370.62" cy="743.7" rx="1.22" ry="1.49" fill="#cc7c6e" stroke="#34201c" stroke-width="0.85"/>
<line x1="370.62" y1="850.1" x2="370.62" y2="851" stroke="#555" stroke-width="0.35"/>
<text font-size="3.9" fill="#333" stroke="#333" stroke-width="0.2" text-anchor="end" transform="translate(372.22,853.7) rotate(-45)">CHOL</text>
<ellipse cx="375" cy="743.7" rx="1.27" ry="1.55" fill="#d8604e" stroke="#34201c" stroke-width="0.85"/>
<line x1="375" y1="850.1" x2="375" y2="851" stroke="#555" stroke-width="0.35"/>
<text font-size="3.9" fill="#333" stroke="#333" stroke-width="0.2" text-anchor="end" transform="translate(376.6,853.7) rotate(-45)">COAD</text>
<ellipse cx="379.38" cy="743.7" rx="1.22" ry="1.49" fill="#c88478" stroke="#34201c" stroke-width="0.85"/>
<line x1="379.38" y1="850.1" x2="379.38" y2="851" stroke="#555" stroke-width="0.35"/>
<text font-size="3.9" fill="#333" stroke="#333" stroke-width="0.2" text-anchor="end" transform="translate(380.98,853.7) rotate(-45)">DLBC</text>
<ellipse cx="383.76" cy="743.7" rx="0.95" ry="1.09" fill="#4a2a26"/>
<line x1="383.76" y1="850.1" x2="383.76" y2="851" stroke="#555" stroke-width="0.35"/>
<text font-size="3.9" fill="#333" stroke="#333" stroke-width="0.2" text-anchor="end" transform="translate(385.36,853.7) rotate(-45)">ESCA</text>
<ellipse cx="388.14" cy="743.7" rx="0.97" ry="1.19" fill="#b08078" stroke="#34201c" stroke-width="0.85"/>
<line x1="388.14" y1="850.1" x2="388.14" y2="851" stroke="#555" stroke-width="0.35"/>
<text font-size="3.9" fill="#333" stroke="#333" stroke-width="0.2" text-anchor="end" transform="translate(389.74,853.7) rotate(-45)">GBM</text>
<ellipse cx="392.52" cy="743.7" rx="0.5" ry="0.55" fill="#c4c4c8"/>
<line x1="392.52" y1="850.1" x2="392.52" y2="851" stroke="#555" stroke-width="0.35"/>
<text font-size="3.9" fill="#333" stroke="#333" stroke-width="0.2" text-anchor="end" transform="translate(394.12,853.7) rotate(-45)">HNSC</text>
<ellipse cx="396.9" cy="743.7" rx="0.5" ry="0.55" fill="#c4c4c8"/>
<line x1="396.9" y1="850.1" x2="396.9" y2="851" stroke="#555" stroke-width="0.35"/>
<text font-size="3.9" fill="#333" stroke="#333" stroke-width="0.2" text-anchor="end" transform="translate(398.5,853.7) rotate(-45)">KICH</text>
<ellipse cx="401.28" cy="743.7" rx="0.5" ry="0.55" fill="#c4c4c8"/>
<line x1="401.28" y1="850.1" x2="401.28" y2="851" stroke="#555" stroke-width="0.35"/>
<text font-size="3.9" fill="#333" stroke="#333" stroke-width="0.2" text-anchor="end" transform="translate(402.88,853.7) rotate(-45)">KIRC</text>
<ellipse cx="405.66" cy="743.7" rx="0.5" ry="0.55" fill="#c4c4c8"/>
<line x1="405.66" y1="850.1" x2="405.66" y2="851" stroke="#555" stroke-width="0.35"/>
<text font-size="3.9" fill="#333" stroke="#333" stroke-width="0.2" text-anchor="end" transform="translate(407.26,853.7) rotate(-45)">KIRP</text>
<ellipse cx="410.04" cy="743.7" rx="0.5" ry="0.55" fill="#c4c4c8"/>
<line x1="410.04" y1="850.1" x2="410.04" y2="851" stroke="#555" stroke-width="0.35"/>
<text font-size="3.9" fill="#333" stroke="#333" stroke-width="0.2" text-anchor="end" transform="translate(411.64,853.7) rotate(-45)">LAML</text>
<ellipse cx="414.42" cy="743.7" rx="0.5" ry="0.55" fill="#c4c4c8"/>
<line x1="414.42" y1="850.1" x2="414.42" y2="851" stroke="#555" stroke-width="0.35"/>
<text font-size="3.9" fill="#333" stroke="#333" stroke-width="0.2" text-anchor="end" transform="translate(416.02,853.7) rotate(-45)">LGG</text>
<ellipse cx="418.8" cy="743.7" rx="0.5" ry="0.55" fill="#c4c4c8"/>
<line x1="418.8" y1="850.1" x2="418.8" y2="851" stroke="#555" stroke-width="0.35"/>
<text font-size="3.9" fill="#333" stroke="#333" stroke-width="0.2" text-anchor="end" transform="translate(420.4,853.7) rotate(-45)">LIHC</text>
<ellipse cx="423.18" cy="743.7" rx="0.5" ry="0.55" fill="#c4c4c8"/>
<line x1="423.18" y1="850.1" x2="423.18" y2="851" stroke="#555" stroke-width="0.35"/>
<text font-size="3.9" fill="#333" stroke="#333" stroke-width="0.2" text-anchor="end" transform="translate(424.78,853.7) rotate(-45)">LUAD</text>
<ellipse cx="427.56" cy="743.7" rx="0.5" ry="0.55" fill="#c4c4c8"/>
<line x1="427.56" y1="850.1" x2="427.56" y2="851" stroke="#555" stroke-width="0.35"/>
<text font-size="3.9" fill="#333" stroke="#333" stroke-width="0.2" text-anchor="end" transform="translate(429.16,853.7) rotate(-45)">LUSC</text>
<ellipse cx="431.94" cy="743.7" rx="0.5" ry="0.55" fill="#c4c4c8"/>
<line x1="431.94" y1="850.1" x2="431.94" y2="851" stroke="#555" stroke-width="0.35"/>
<text font-size="3.9" fill="#333" stroke="#333" stroke-width="0.2" text-anchor="end" transform="translate(433.54,853.7) rotate(-45)">MESO</text>
<ellipse cx="436.32" cy="743.7" rx="0.5" ry="0.55" fill="#c4c4c8"/>
<line x1="436.32" y1="850.1" x2="436.32" y2="851" stroke="#555" stroke-width="0.35"/>
<text font-size="3.9" fill="#333" stroke="#333" stroke-width="0.2" text-anchor="end" transform="translate(437.92,853.7) rotate(-45)">OV</text>
<ellipse cx="440.7" cy="743.7" rx="0.5" ry="0.55" fill="#c4c4c8"/>
<line x1="440.7" y1="850.1" x2="440.7" y2="851" stroke="#555" stroke-width="0.35"/>
<text font-size="3.9" fill="#333" stroke="#333" stroke-width="0.2" text-anchor="end" transform="translate(442.3,853.7) rotate(-45)">PAAD</text>
<ellipse cx="445.08" cy="743.7" rx="0.5" ry="0.55" fill="#c4c4c8"/>
<line x1="445.08" y1="850.1" x2="445.08" y2="851" stroke="#555" stroke-width="0.35"/>
<text font-size="3.9" fill="#333" stroke="#333" stroke-width="0.2" text-anchor="end" transform="translate(446.68,853.7) rotate(-45)">PCPG</text>
<ellipse cx="449.46" cy="743.7" rx="0.5" ry="0.55" fill="#c4c4c8"/>
<line x1="449.46" y1="850.1" x2="449.46" y2="851" stroke="#555" stroke-width="0.35"/>
<text font-size="3.9" fill="#333" stroke="#333" stroke-width="0.2" text-anchor="end" transform="translate(451.06,853.7) rotate(-45)">PRAD</text>
<ellipse cx="453.84" cy="743.7" rx="0.5" ry="0.55" fill="#c4c4c8"/>
<line x1="453.84" y1="850.1" x2="453.84" y2="851" stroke="#555" stroke-width="0.35"/>
<text font-size="3.9" fill="#333" stroke="#333" stroke-width="0.2" text-anchor="end" transform="translate(455.44,853.7) rotate(-45)">READ</text>
<ellipse cx="458.22" cy="743.7" rx="0.5" ry="0.55" fill="#c4c4c8"/>
<line x1="458.22" y1="850.1" x2="458.22" y2="851" stroke="#555" stroke-width="0.35"/>
<text font-size="3.9" fill="#333" stroke="#333" stroke-width="0.2" text-anchor="end" transform="translate(459.82,853.7) rotate(-45)">SARC</text>
<ellipse cx="462.6" cy="743.7" rx="0.5" ry="0.55" fill="#c4c4c8"/>
<line x1="462.6" y1="850.1" x2="462.6" y2="851" stroke="#555" stroke-width="0.35"/>
<text font-size="3.9" fill="#333" stroke="#333" stroke-width="0.2" text-anchor="end" transform="translate(464.2,853.7) rotate(-45)">SKCM</text>
<ellipse cx="466.98" cy="743.7" rx="0.5" ry="0.55" fill="#c4c4c8"/>
<line x1="466.98" y1="850.1" x2="466.98" y2="851" stroke="#555" stroke-width="0.35"/>
<text font-size="3.9" fill="#333" stroke="#333" stroke-width="0.2" text-anchor="end" transform="translate(468.58,853.7) rotate(-45)">STAD</text>
<ellipse cx="471.36" cy="743.7" rx="0.5" ry="0.55" fill="#c4c4c8"/>
<line x1="471.36" y1="850.1" x2="471.36" y2="851" stroke="#555" stroke-width="0.35"/>
<text font-size="3.9" fill="#333" stroke="#333" stroke-width="0.2" text-anchor="end" transform="translate(472.96,853.7) rotate(-45)">TGCT</text>
<ellipse cx="475.74" cy="743.7" rx="0.5" ry="0.55" fill="#c4c4c8"/>
<line x1="475.74" y1="850.1" x2="475.74" y2="851" stroke="#555" stroke-width="0.35"/>
<text font-size="3.9" fill="#333" stroke="#333" stroke-width="0.2" text-anchor="end" transform="translate(477.34,853.7) rotate(-45)">THCA</text>
<ellipse cx="480.12" cy="743.7" rx="0.5" ry="0.55" fill="#c4c4c8"/>
<line x1="480.12" y1="850.1" x2="480.12" y2="851" stroke="#555" stroke-width="0.35"/>
<text font-size="3.9" fill="#333" stroke="#333" stroke-width="0.2" text-anchor="end" transform="translate(481.72,853.7) rotate(-45)">THYM</text>
<ellipse cx="484.5" cy="743.7" rx="0.5" ry="0.55" fill="#c4c4c8"/>
<line x1="484.5" y1="850.1" x2="484.5" y2="851" stroke="#555" stroke-width="0.35"/>
<text font-size="3.9" fill="#333" stroke="#333" stroke-width="0.2" text-anchor="end" transform="translate(486.1,853.7) rotate(-45)">UCEC</text>
<ellipse cx="488.88" cy="743.7" rx="0.5" ry="0.55" fill="#c4c4c8"/>
<line x1="488.88" y1="850.1" x2="488.88" y2="851" stroke="#555" stroke-width="0.35"/>
<text font-size="3.9" fill="#333" stroke="#333" stroke-width="0.2" text-anchor="end" transform="translate(490.48,853.7) rotate(-45)">UCS</text>
<ellipse cx="493.26" cy="743.7" rx="0.5" ry="0.55" fill="#c4c4c8"/>
<line x1="493.26" y1="850.1" x2="493.26" y2="851" stroke="#555" stroke-width="0.35"/>
<text font-size="3.9" fill="#333" stroke="#333" stroke-width="0.2" text-anchor="end" transform="translate(494.86,853.7) rotate(-45)">UVM</text>
<path d="M499.9 705.3V850.1M504.28 705.3V850.1M508.66 705.3V850.1M513.04 705.3V850.1M517.42 705.3V850.1M521.8 705.3V850.1M526.18 705.3V850.1M530.56 705.3V850.1M534.94 705.3V850.1M539.32 705.3V850.1M543.7 705.3V850.1M548.08 705.3V850.1M552.46 705.3V850.1M556.84 705.3V850.1M561.22 705.3V850.1M565.6 705.3V850.1M569.98 705.3V850.1M574.36 705.3V850.1M578.74 705.3V850.1M583.12 705.3V850.1M587.5 705.3V850.1M591.88 705.3V850.1M596.26 705.3V850.1M600.64 705.3V850.1M605.02 705.3V850.1M609.4 705.3V850.1M613.78 705.3V850.1M618.16 705.3V850.1M622.54 705.3V850.1M626.92 705.3V850.1M631.3 705.3V850.1M635.68 705.3V850.1M640.06 705.3V850.1" stroke="#dedede" stroke-width="0.4" stroke-dasharray="0.8 0.8" fill="none"/>
<line x1="497.7" y1="743.7" x2="642.9" y2="743.7" stroke="#e6e6e6" stroke-width="0.35" stroke-dasharray="0.8 0.8"/>
<rect x="497.7" y="705.3" width="145.2" height="144.8" fill="none" stroke="#777" stroke-width="0.55"/>
<rect x="497.7" y="696.6" width="145.2" height="8.7" fill="#fff" stroke="#666" stroke-width="0.55"/>
<line x1="497.7" y1="705.3" x2="642.9" y2="705.3" stroke="#333" stroke-width="0.8"/>
<text x="570.3" y="702.6" font-size="4.6" fill="#222" stroke="#222" stroke-width="0.2" text-anchor="middle" textLength="8" lengthAdjust="spacingAndGlyphs">PFS</text>
<ellipse cx="499.9" cy="743.7" rx="0.5" ry="0.55" fill="#c4c4c8"/>
<line x1="499.9" y1="850.1" x2="499.9" y2="851" stroke="#555" stroke-width="0.35"/>
<text font-size="3.9" fill="#333" stroke="#333" stroke-width="0.2" text-anchor="end" transform="translate(501.5,853.7) rotate(-45)">ACC</text>
<ellipse cx="504.28" cy="743.7" rx="1.32" ry="1.61" fill="#d07462" stroke="#34201c" stroke-width="0.85"/>
<line x1="504.28" y1="850.1" x2="504.28" y2="851" stroke="#555" stroke-width="0.35"/>
<text font-size="3.9" fill="#333" stroke="#333" stroke-width="0.2" text-anchor="end" transform="translate(505.88,853.7) rotate(-45)">BLCA</text>
<ellipse cx="508.66" cy="743.7" rx="1.22" ry="1.49" fill="#c88c80" stroke="#34201c" stroke-width="0.85"/>
<line x1="508.66" y1="850.1" x2="508.66" y2="851" stroke="#555" stroke-width="0.35"/>
<text font-size="3.9" fill="#333" stroke="#333" stroke-width="0.2" text-anchor="end" transform="translate(510.26,853.7) rotate(-45)">BRCA</text>
<ellipse cx="513.04" cy="743.7" rx="0.5" ry="0.55" fill="#c4c4c8"/>
<line x1="513.04" y1="850.1" x2="513.04" y2="851" stroke="#555" stroke-width="0.35"/>
<text font-size="3.9" fill="#333" stroke="#333" stroke-width="0.2" text-anchor="end" transform="translate(514.64,853.7) rotate(-45)">CESC</text>
<ellipse cx="517.42" cy="743.7" rx="0.95" ry="1.09" fill="#5a3a46"/>
<line x1="517.42" y1="850.1" x2="517.42" y2="851" stroke="#555" stroke-width="0.35"/>
<text font-size="3.9" fill="#333" stroke="#333" stroke-width="0.2" text-anchor="end" transform="translate(519.02,853.7) rotate(-45)">CHOL</text>
<ellipse cx="521.8" cy="743.7" rx="1.37" ry="1.67" fill="#e8482e" stroke="#34201c" stroke-width="0.85"/>
<line x1="521.8" y1="850.1" x2="521.8" y2="851" stroke="#555" stroke-width="0.35"/>
<text font-size="3.9" fill="#333" stroke="#333" stroke-width="0.2" text-anchor="end" transform="translate(523.4,853.7) rotate(-45)">COAD</text>
<ellipse cx="526.18" cy="743.7" rx="1.22" ry="1.49" fill="#c08a80" stroke="#34201c" stroke-width="0.85"/>
<line x1="526.18" y1="850.1" x2="526.18" y2="851" stroke="#555" stroke-width="0.35"/>
<text font-size="3.9" fill="#333" stroke="#333" stroke-width="0.2" text-anchor="end" transform="translate(527.78,853.7) rotate(-45)">DLBC</text>
<ellipse cx="530.56" cy="743.7" rx="0.5" ry="0.55" fill="#c4c4c8"/>
<line x1="530.56" y1="850.1" x2="530.56" y2="851" stroke="#555" stroke-width="0.35"/>
<text font-size="3.9" fill="#333" stroke="#333" stroke-width="0.2" text-anchor="end" transform="translate(532.16,853.7) rotate(-45)">ESCA</text>
<ellipse cx="534.94" cy="743.7" rx="1.07" ry="1.31" fill="#b88478" stroke="#34201c" stroke-width="0.85"/>
<line x1="534.94" y1="850.1" x2="534.94" y2="851" stroke="#555" stroke-width="0.35"/>
<text font-size="3.9" fill="#333" stroke="#333" stroke-width="0.2" text-anchor="end" transform="translate(536.54,853.7) rotate(-45)">GBM</text>
<ellipse cx="539.32" cy="743.7" rx="0.5" ry="0.55" fill="#c4c4c8"/>
<line x1="539.32" y1="850.1" x2="539.32" y2="851" stroke="#555" stroke-width="0.35"/>
<text font-size="3.9" fill="#333" stroke="#333" stroke-width="0.2" text-anchor="end" transform="translate(540.92,853.7) rotate(-45)">HNSC</text>
<ellipse cx="543.7" cy="743.7" rx="0.5" ry="0.55" fill="#c4c4c8"/>
<line x1="543.7" y1="850.1" x2="543.7" y2="851" stroke="#555" stroke-width="0.35"/>
<text font-size="3.9" fill="#333" stroke="#333" stroke-width="0.2" text-anchor="end" transform="translate(545.3,853.7) rotate(-45)">KICH</text>
<ellipse cx="548.08" cy="743.7" rx="0.5" ry="0.55" fill="#c4c4c8"/>
<line x1="548.08" y1="850.1" x2="548.08" y2="851" stroke="#555" stroke-width="0.35"/>
<text font-size="3.9" fill="#333" stroke="#333" stroke-width="0.2" text-anchor="end" transform="translate(549.68,853.7) rotate(-45)">KIRC</text>
<ellipse cx="552.46" cy="743.7" rx="0.5" ry="0.55" fill="#c4c4c8"/>
<line x1="552.46" y1="850.1" x2="552.46" y2="851" stroke="#555" stroke-width="0.35"/>
<text font-size="3.9" fill="#333" stroke="#333" stroke-width="0.2" text-anchor="end" transform="translate(554.06,853.7) rotate(-45)">KIRP</text>
<ellipse cx="556.84" cy="743.7" rx="0.5" ry="0.55" fill="#c4c4c8"/>
<line x1="556.84" y1="850.1" x2="556.84" y2="851" stroke="#555" stroke-width="0.35"/>
<text font-size="3.9" fill="#333" stroke="#333" stroke-width="0.2" text-anchor="end" transform="translate(558.44,853.7) rotate(-45)">LAML</text>
<ellipse cx="561.22" cy="743.7" rx="0.5" ry="0.55" fill="#c4c4c8"/>
<line x1="561.22" y1="850.1" x2="561.22" y2="851" stroke="#555" stroke-width="0.35"/>
<text font-size="3.9" fill="#333" stroke="#333" stroke-width="0.2" text-anchor="end" transform="translate(562.82,853.7) rotate(-45)">LGG</text>
<ellipse cx="565.6" cy="743.7" rx="0.5" ry="0.55" fill="#c4c4c8"/>
<line x1="565.6" y1="850.1" x2="565.6" y2="851" stroke="#555" stroke-width="0.35"/>
<text font-size="3.9" fill="#333" stroke="#333" stroke-width="0.2" text-anchor="end" transform="translate(567.2,853.7) rotate(-45)">LIHC</text>
<ellipse cx="569.98" cy="743.7" rx="0.5" ry="0.55" fill="#c4c4c8"/>
<line x1="569.98" y1="850.1" x2="569.98" y2="851" stroke="#555" stroke-width="0.35"/>
<text font-size="3.9" fill="#333" stroke="#333" stroke-width="0.2" text-anchor="end" transform="translate(571.58,853.7) rotate(-45)">LUAD</text>
<ellipse cx="574.36" cy="743.7" rx="0.5" ry="0.55" fill="#c4c4c8"/>
<line x1="574.36" y1="850.1" x2="574.36" y2="851" stroke="#555" stroke-width="0.35"/>
<text font-size="3.9" fill="#333" stroke="#333" stroke-width="0.2" text-anchor="end" transform="translate(575.96,853.7) rotate(-45)">LUSC</text>
<ellipse cx="578.74" cy="743.7" rx="0.5" ry="0.55" fill="#c4c4c8"/>
<line x1="578.74" y1="850.1" x2="578.74" y2="851" stroke="#555" stroke-width="0.35"/>
<text font-size="3.9" fill="#333" stroke="#333" stroke-width="0.2" text-anchor="end" transform="translate(580.34,853.7) rotate(-45)">MESO</text>
<ellipse cx="583.12" cy="743.7" rx="0.5" ry="0.55" fill="#c4c4c8"/>
<line x1="583.12" y1="850.1" x2="583.12" y2="851" stroke="#555" stroke-width="0.35"/>
<text font-size="3.9" fill="#333" stroke="#333" stroke-width="0.2" text-anchor="end" transform="translate(584.72,853.7) rotate(-45)">OV</text>
<ellipse cx="587.5" cy="743.7" rx="0.95" ry="1.09" fill="#3a2a2a"/>
<line x1="587.5" y1="850.1" x2="587.5" y2="851" stroke="#555" stroke-width="0.35"/>
<text font-size="3.9" fill="#333" stroke="#333" stroke-width="0.2" text-anchor="end" transform="translate(589.1,853.7) rotate(-45)">PAAD</text>
<ellipse cx="591.88" cy="743.7" rx="0.5" ry="0.55" fill="#c4c4c8"/>
<line x1="591.88" y1="850.1" x2="591.88" y2="851" stroke="#555" stroke-width="0.35"/>
<text font-size="3.9" fill="#333" stroke="#333" stroke-width="0.2" text-anchor="end" transform="translate(593.48,853.7) rotate(-45)">PCPG</text>
<ellipse cx="596.26" cy="743.7" rx="0.5" ry="0.55" fill="#c4c4c8"/>
<line x1="596.26" y1="850.1" x2="596.26" y2="851" stroke="#555" stroke-width="0.35"/>
<text font-size="3.9" fill="#333" stroke="#333" stroke-width="0.2" text-anchor="end" transform="translate(597.86,853.7) rotate(-45)">PRAD</text>
<ellipse cx="600.64" cy="743.7" rx="0.5" ry="0.55" fill="#c4c4c8"/>
<line x1="600.64" y1="850.1" x2="600.64" y2="851" stroke="#555" stroke-width="0.35"/>
<text font-size="3.9" fill="#333" stroke="#333" stroke-width="0.2" text-anchor="end" transform="translate(602.24,853.7) rotate(-45)">READ</text>
<ellipse cx="605.02" cy="743.7" rx="0.5" ry="0.55" fill="#c4c4c8"/>
<line x1="605.02" y1="850.1" x2="605.02" y2="851" stroke="#555" stroke-width="0.35"/>
<text font-size="3.9" fill="#333" stroke="#333" stroke-width="0.2" text-anchor="end" transform="translate(606.62,853.7) rotate(-45)">SARC</text>
<ellipse cx="609.4" cy="743.7" rx="0.9" ry="1.03" fill="#3a2a2a"/>
<line x1="609.4" y1="850.1" x2="609.4" y2="851" stroke="#555" stroke-width="0.35"/>
<text font-size="3.9" fill="#333" stroke="#333" stroke-width="0.2" text-anchor="end" transform="translate(611,853.7) rotate(-45)">SKCM</text>
<ellipse cx="613.78" cy="743.7" rx="0.5" ry="0.55" fill="#c4c4c8"/>
<line x1="613.78" y1="850.1" x2="613.78" y2="851" stroke="#555" stroke-width="0.35"/>
<text font-size="3.9" fill="#333" stroke="#333" stroke-width="0.2" text-anchor="end" transform="translate(615.38,853.7) rotate(-45)">STAD</text>
<ellipse cx="618.16" cy="743.7" rx="0.5" ry="0.55" fill="#c4c4c8"/>
<line x1="618.16" y1="850.1" x2="618.16" y2="851" stroke="#555" stroke-width="0.35"/>
<text font-size="3.9" fill="#333" stroke="#333" stroke-width="0.2" text-anchor="end" transform="translate(619.76,853.7) rotate(-45)">TGCT</text>
<ellipse cx="622.54" cy="743.7" rx="0.5" ry="0.55" fill="#c4c4c8"/>
<line x1="622.54" y1="850.1" x2="622.54" y2="851" stroke="#555" stroke-width="0.35"/>
<text font-size="3.9" fill="#333" stroke="#333" stroke-width="0.2" text-anchor="end" transform="translate(624.14,853.7) rotate(-45)">THCA</text>
<ellipse cx="626.92" cy="743.7" rx="1.02" ry="1.25" fill="#c86a58" stroke="#34201c" stroke-width="0.85"/>
<line x1="626.92" y1="850.1" x2="626.92" y2="851" stroke="#555" stroke-width="0.35"/>
<text font-size="3.9" fill="#333" stroke="#333" stroke-width="0.2" text-anchor="end" transform="translate(628.52,853.7) rotate(-45)">THYM</text>
<ellipse cx="631.3" cy="743.7" rx="0.5" ry="0.55" fill="#c4c4c8"/>
<line x1="631.3" y1="850.1" x2="631.3" y2="851" stroke="#555" stroke-width="0.35"/>
<text font-size="3.9" fill="#333" stroke="#333" stroke-width="0.2" text-anchor="end" transform="translate(632.9,853.7) rotate(-45)">UCEC</text>
<ellipse cx="635.68" cy="743.7" rx="0.5" ry="0.55" fill="#c4c4c8"/>
<line x1="635.68" y1="850.1" x2="635.68" y2="851" stroke="#555" stroke-width="0.35"/>
<text font-size="3.9" fill="#333" stroke="#333" stroke-width="0.2" text-anchor="end" transform="translate(637.28,853.7) rotate(-45)">UCS</text>
<ellipse cx="640.06" cy="743.7" rx="0.92" ry="1.14" fill="#8a6a64" stroke="#34201c" stroke-width="0.85"/>
<line x1="640.06" y1="850.1" x2="640.06" y2="851" stroke="#555" stroke-width="0.35"/>
<text font-size="3.9" fill="#333" stroke="#333" stroke-width="0.2" text-anchor="end" transform="translate(641.66,853.7) rotate(-45)">UVM</text>
<line x1="350.5" y1="743.7" x2="351.4" y2="743.7" stroke="#555" stroke-width="0.4"/>
<text x="336.6" y="745.1" font-size="4.2" fill="#333" stroke="#333" stroke-width="0.2" textLength="8.7" lengthAdjust="spacingAndGlyphs">GAB2</text>
<text font-size="4.2" fill="#333" stroke="#333" stroke-width="0.2" text-anchor="middle" textLength="14" lengthAdjust="spacingAndGlyphs" transform="translate(334.8,780.5) rotate(-90)">Symbol</text>
<text x="496.5" y="868.8" font-size="4.6" fill="#333" stroke="#333" stroke-width="0.2" text-anchor="middle" textLength="21.9" lengthAdjust="spacingAndGlyphs">Cancer type</text>
<text x="648.1" y="727.6" font-size="5" fill="#222" textLength="17.8" lengthAdjust="spacingAndGlyphs">Logrank P</text>
<ellipse cx="650.1" cy="734.2" rx="0.7" ry="0.77" fill="#999" stroke="#222" stroke-width="0.5"/>
<text x="654.9" y="735.5" font-size="3.8" fill="#444" stroke="#444" stroke-width="0.2" textLength="6.5" lengthAdjust="spacingAndGlyphs">0.05</text>
<ellipse cx="650.1" cy="740.1" rx="0.85" ry="0.94" fill="#999" stroke="#222" stroke-width="0.5"/>
<text x="654.9" y="741.4" font-size="3.8" fill="#444" stroke="#444" stroke-width="0.2" textLength="6.5" lengthAdjust="spacingAndGlyphs">0.01</text>
<ellipse cx="650.1" cy="746.2" rx="1" ry="1.1" fill="#999" stroke="#222" stroke-width="0.5"/>
<text x="654.9" y="747.5" font-size="3.8" fill="#444" stroke="#444" stroke-width="0.2" textLength="8" lengthAdjust="spacingAndGlyphs">0.001</text>
<ellipse cx="650.1" cy="752.4" rx="1.15" ry="1.26" fill="#999" stroke="#222" stroke-width="0.5"/>
<text x="654.9" y="753.7" font-size="3.8" fill="#444" stroke="#444" stroke-width="0.2" textLength="13.8" lengthAdjust="spacingAndGlyphs">&lt;=0.0001</text>
<text x="647.6" y="767.9" font-size="5" fill="#222" textLength="36.2" lengthAdjust="spacingAndGlyphs">−Log(10) Logrank P</text>
<rect x="647.8" y="772" width="5.3" height="29.8" fill="url(#glr)"/>
<text x="654.9" y="773.1" font-size="3.8" fill="#444" stroke="#444" stroke-width="0.2" textLength="4.4" lengthAdjust="spacingAndGlyphs">0.0</text>
<text x="654.9" y="777.4" font-size="3.8" fill="#444" stroke="#444" stroke-width="0.2" textLength="4.4" lengthAdjust="spacingAndGlyphs">1.3</text>
<text x="654.9" y="788.4" font-size="3.8" fill="#444" stroke="#444" stroke-width="0.2" textLength="4.4" lengthAdjust="spacingAndGlyphs">4.5</text>
<text x="654.9" y="803.1" font-size="3.8" fill="#444" stroke="#444" stroke-width="0.2" textLength="4.4" lengthAdjust="spacingAndGlyphs">9.0</text>
<text x="648.1" y="815" font-size="5" fill="#222" textLength="29.5" lengthAdjust="spacingAndGlyphs">Logrank P value</text>
<ellipse cx="650.1" cy="821.4" rx="0.7" ry="0.8" fill="#222"/>
<text x="654.9" y="822.7" font-size="3.8" fill="#444" stroke="#444" stroke-width="0.2" textLength="10.3" lengthAdjust="spacingAndGlyphs">&lt;=0.05</text>
<ellipse cx="650.1" cy="827.9" rx="0.55" ry="0.6" fill="#c4c4c8"/>
<text x="654.9" y="829.2" font-size="3.8" fill="#444" stroke="#444" stroke-width="0.2" textLength="8.5" lengthAdjust="spacingAndGlyphs">&gt;0.05</text>
</g>
</svg>
</body></html>
